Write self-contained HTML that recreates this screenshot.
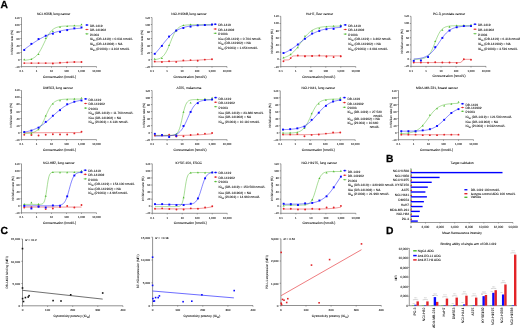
<!DOCTYPE html>
<html><head><meta charset="utf-8"><style>
html,body{margin:0;padding:0;background:#fff;}
svg{display:block;will-change:transform;}
text{font-family:"Liberation Sans",sans-serif;fill:#000;text-rendering:geometricPrecision;stroke:#000;stroke-width:0.05px;}
</style></head><body>
<svg width="520" height="328" viewBox="0 0 520 328">
<rect width="520" height="328" fill="#fff"/>
<text x="36.9" y="15.25" font-size="3.3" text-anchor="start">NCI-H358, lung cancer</text>
<path d="M21.5 17.5V66.6H96.5" fill="none" stroke="#444" stroke-width="0.55"/>
<path d="M20.3 66.6H21.5M20.3 59.59H21.5M20.3 52.57H21.5M20.3 45.56H21.5M20.3 38.54H21.5M20.3 31.53H21.5M20.3 24.51H21.5M20.3 17.5H21.5M21.5 66.6v1.1M36.5 66.6v1.1M51.5 66.6v1.1M66.5 66.6v1.1M81.5 66.6v1.1M96.5 66.6v1.1" stroke="#444" stroke-width="0.5"/>
<text x="19.5" y="67.6" font-size="2.8" text-anchor="end">&#8722;20</text>
<text x="19.5" y="60.59" font-size="2.8" text-anchor="end">0</text>
<text x="19.5" y="53.57" font-size="2.8" text-anchor="end">20</text>
<text x="19.5" y="46.56" font-size="2.8" text-anchor="end">40</text>
<text x="19.5" y="39.54" font-size="2.8" text-anchor="end">60</text>
<text x="19.5" y="32.53" font-size="2.8" text-anchor="end">80</text>
<text x="19.5" y="25.51" font-size="2.8" text-anchor="end">100</text>
<text x="19.5" y="18.5" font-size="2.8" text-anchor="end">120</text>
<text x="21.5" y="72.2" font-size="2.8" text-anchor="middle">0.1</text>
<text x="36.5" y="72.2" font-size="2.8" text-anchor="middle">1</text>
<text x="51.5" y="72.2" font-size="2.8" text-anchor="middle">10</text>
<text x="66.5" y="72.2" font-size="2.8" text-anchor="middle">100</text>
<text x="81.5" y="72.2" font-size="2.8" text-anchor="middle">1,000</text>
<text x="96.5" y="72.2" font-size="2.8" text-anchor="middle">10,000</text>
<text x="43" y="77.5" font-size="3.25" text-anchor="start">Concentration (nmol/L)</text>
<text transform="translate(12.7 42.35) rotate(-90)" font-size="3.2" text-anchor="middle">Inhibition rate (%)</text>
<polyline points="24.25,63.15 24.97,63.15 25.69,63.15 26.42,63.15 27.14,63.15 27.87,63.15 28.59,63.15 29.32,63.15 30.04,63.15 30.77,63.15 31.49,63.15 32.22,63.15 32.94,63.15 33.67,63.15 34.39,63.15 35.12,63.15 35.84,63.15 36.57,63.15 37.29,63.15 38.02,63.15 38.74,63.15 39.47,63.15 40.19,63.15 40.91,63.15 41.64,63.15 42.36,63.15 43.09,63.15 43.81,63.15 44.54,63.15 45.26,63.15 45.99,63.15 46.71,63.15 47.44,63.15 48.16,63.14 48.89,63.14 49.61,63.14 50.34,63.13 51.06,63.13 51.79,63.12 52.51,63.12 53.24,63.11 53.96,63.1 54.68,63.08 55.41,63.07 56.13,63.05 56.86,63.03 57.58,63 58.31,62.97 59.03,62.93 59.76,62.89 60.48,62.84 61.21,62.79 61.93,62.73 62.66,62.67 63.38,62.61 64.11,62.55 64.83,62.49 65.56,62.43 66.28,62.38 67.01,62.33 67.73,62.28 68.45,62.24 69.18,62.21 69.9,62.18 70.63,62.15 71.35,62.13 72.08,62.12 72.8,62.1 73.53,62.09 74.25,62.08 74.98,62.07 75.7,62.06 76.43,62.06 77.15,62.05 77.88,62.05 78.6,62.05 79.33,62.05 80.05,62.04 80.78,62.04 81.5,62.04" fill="none" stroke="#e32428" stroke-width="0.5"/>
<circle cx="24.25" cy="63.09" r="0.95" fill="#e32428"/>
<circle cx="31.4" cy="63.09" r="0.95" fill="#e32428"/>
<circle cx="38.56" cy="63.09" r="0.95" fill="#e32428"/>
<circle cx="45.72" cy="63.09" r="0.95" fill="#e32428"/>
<circle cx="52.87" cy="63.44" r="0.95" fill="#e32428"/>
<circle cx="60.03" cy="62.74" r="0.95" fill="#e32428"/>
<circle cx="67.19" cy="62.39" r="0.95" fill="#e32428"/>
<circle cx="74.34" cy="62.04" r="0.95" fill="#e32428"/>
<circle cx="81.5" cy="62.04" r="0.95" fill="#e32428"/>
<polyline points="24.25,60.27 24.97,60.21 25.69,60.15 26.42,60.07 27.14,59.98 27.87,59.87 28.59,59.75 29.32,59.6 30.04,59.42 30.77,59.21 31.49,58.96 32.22,58.68 32.94,58.34 33.67,57.95 34.39,57.49 35.12,56.96 35.84,56.35 36.57,55.66 37.29,54.87 38.02,53.99 38.74,53 39.47,51.91 40.19,50.72 40.91,49.43 41.64,48.06 42.36,46.62 43.09,45.14 43.81,43.62 44.54,42.09 45.26,40.59 45.99,39.12 46.71,37.71 47.44,36.38 48.16,35.14 48.89,33.99 49.61,32.95 50.34,32.01 51.06,31.17 51.79,30.42 52.51,29.77 53.24,29.2 53.96,28.71 54.68,28.28 55.41,27.92 56.13,27.6 56.86,27.33 57.58,27.11 58.31,26.91 59.03,26.75 59.76,26.61 60.48,26.49 61.21,26.39 61.93,26.31 62.66,26.24 63.38,26.18 64.11,26.13 64.83,26.09 65.56,26.05 66.28,26.02 67.01,26 67.73,25.98 68.45,25.96 69.18,25.94 69.9,25.93 70.63,25.92 71.35,25.91 72.08,25.91 72.8,25.9 73.53,25.89 74.25,25.89 74.98,25.89 75.7,25.88 76.43,25.88 77.15,25.88 77.88,25.88 78.6,25.88 79.33,25.87 80.05,25.87 80.78,25.87 81.5,25.87" fill="none" stroke="#52bb32" stroke-width="0.5"/>
<path d="M24.25 58.54L25.29 60.35L23.2 60.35Z" fill="#52bb32"/>
<path d="M31.4 58.19L32.45 59.99L30.36 59.99Z" fill="#52bb32"/>
<path d="M38.56 53.28L39.6 55.08L37.51 55.08Z" fill="#52bb32"/>
<path d="M45.72 37.15L46.76 38.95L44.67 38.95Z" fill="#52bb32"/>
<path d="M52.87 30.13L53.92 31.94L51.83 31.94Z" fill="#52bb32"/>
<path d="M60.03 26.06L61.07 27.87L58.98 27.87Z" fill="#52bb32"/>
<path d="M67.19 25.22L68.23 27.03L66.14 27.03Z" fill="#52bb32"/>
<path d="M74.34 24.52L75.39 26.33L73.3 26.33Z" fill="#52bb32"/>
<path d="M81.5 23.47L82.55 25.27L80.45 25.27Z" fill="#52bb32"/>
<polyline points="24.25,49.45 24.97,48.93 25.69,48.41 26.42,47.89 27.14,47.37 27.87,46.85 28.59,46.33 29.32,45.81 30.04,45.3 30.77,44.8 31.49,44.29 32.22,43.79 32.94,43.3 33.67,42.81 34.39,42.33 35.12,41.86 35.84,41.39 36.57,40.94 37.29,40.49 38.02,40.04 38.74,39.61 39.47,39.18 40.19,38.77 40.91,38.36 41.64,37.97 42.36,37.58 43.09,37.2 43.81,36.83 44.54,36.47 45.26,36.12 45.99,35.79 46.71,35.46 47.44,35.14 48.16,34.83 48.89,34.53 49.61,34.24 50.34,33.96 51.06,33.68 51.79,33.42 52.51,33.17 53.24,32.92 53.96,32.69 54.68,32.46 55.41,32.24 56.13,32.03 56.86,31.82 57.58,31.63 58.31,31.44 59.03,31.26 59.76,31.08 60.48,30.91 61.21,30.75 61.93,30.6 62.66,30.45 63.38,30.31 64.11,30.17 64.83,30.04 65.56,29.91 66.28,29.79 67.01,29.68 67.73,29.57 68.45,29.46 69.18,29.36 69.9,29.26 70.63,29.17 71.35,29.08 72.08,29 72.8,28.92 73.53,28.84 74.25,28.77 74.98,28.7 75.7,28.63 76.43,28.56 77.15,28.5 77.88,28.44 78.6,28.39 79.33,28.33 80.05,28.28 80.78,28.23 81.5,28.18" fill="none" stroke="#0a0aff" stroke-width="0.5"/>
<path d="M24.25 49.38V50.57" stroke="#0a0aff" stroke-width="0.6"/>
<rect x="23.3" y="49.03" width="1.9" height="1.9" fill="#0a0aff"/>
<path d="M31.4 43.45V44.26" stroke="#0a0aff" stroke-width="0.6"/>
<rect x="30.45" y="42.91" width="1.9" height="1.9" fill="#0a0aff"/>
<rect x="37.61" y="38.08" width="1.9" height="1.9" fill="#0a0aff"/>
<rect x="44.77" y="34.79" width="1.9" height="1.9" fill="#0a0aff"/>
<rect x="51.92" y="32.79" width="1.9" height="1.9" fill="#0a0aff"/>
<rect x="59.08" y="30.96" width="1.9" height="1.9" fill="#0a0aff"/>
<rect x="66.24" y="29.18" width="1.9" height="1.9" fill="#0a0aff"/>
<rect x="73.39" y="27.39" width="1.9" height="1.9" fill="#0a0aff"/>
<rect x="80.55" y="26.48" width="1.9" height="1.9" fill="#0a0aff"/>
<path d="M85.3 25h3.2" stroke="#0a0aff" stroke-width="0.6"/>
<rect x="86.1" y="24.2" width="1.6" height="1.6" fill="#0a0aff"/>
<text x="89.9" y="26.95" font-size="3.2" text-anchor="start">DB-1419</text>
<path d="M85.3 29.5h3.2" stroke="#e32428" stroke-width="0.6"/>
<circle cx="86.9" cy="29.5" r="0.8" fill="#e32428"/>
<text x="89.9" y="31.45" font-size="3.2" text-anchor="start">DB-141902</text>
<path d="M85.3 33.75h3.2" stroke="#52bb32" stroke-width="0.6"/>
<path d="M86.9 32.87L87.78 34.39L86.02 34.39Z" fill="#52bb32"/>
<text x="89.9" y="35.7" font-size="3.2" text-anchor="start">P1003</text>
<text x="89.9" y="39.85" font-size="3.2">IC<tspan font-size="1.984" dy="0.8">50</tspan><tspan dy="-0.8"> (DB-1419) = 0.031 nmol/L</tspan></text>
<text x="89.9" y="45.25" font-size="3.2">IC<tspan font-size="1.984" dy="0.8">50</tspan><tspan dy="-0.8"> (DB-141902) = NA</tspan></text>
<text x="89.9" y="49.85" font-size="3.2">IC<tspan font-size="1.984" dy="0.8">50</tspan><tspan dy="-0.8"> (P1003) = 3.102 nmol/L</tspan></text>
<text x="171.25" y="15.25" font-size="3.3" text-anchor="start">NCI-H1568, lung cancer</text>
<path d="M152 17.5V66.6H227" fill="none" stroke="#444" stroke-width="0.55"/>
<path d="M150.8 66.6H152M150.8 59.59H152M150.8 52.57H152M150.8 45.56H152M150.8 38.54H152M150.8 31.53H152M150.8 24.51H152M150.8 17.5H152M152 66.6v1.1M167 66.6v1.1M182 66.6v1.1M197 66.6v1.1M212 66.6v1.1M227 66.6v1.1" stroke="#444" stroke-width="0.5"/>
<text x="150" y="67.6" font-size="2.8" text-anchor="end">&#8722;20</text>
<text x="150" y="60.59" font-size="2.8" text-anchor="end">0</text>
<text x="150" y="53.57" font-size="2.8" text-anchor="end">20</text>
<text x="150" y="46.56" font-size="2.8" text-anchor="end">40</text>
<text x="150" y="39.54" font-size="2.8" text-anchor="end">60</text>
<text x="150" y="32.53" font-size="2.8" text-anchor="end">80</text>
<text x="150" y="25.51" font-size="2.8" text-anchor="end">100</text>
<text x="150" y="18.5" font-size="2.8" text-anchor="end">120</text>
<text x="152" y="72.2" font-size="2.8" text-anchor="middle">0.1</text>
<text x="167" y="72.2" font-size="2.8" text-anchor="middle">1</text>
<text x="182" y="72.2" font-size="2.8" text-anchor="middle">10</text>
<text x="197" y="72.2" font-size="2.8" text-anchor="middle">100</text>
<text x="212" y="72.2" font-size="2.8" text-anchor="middle">1,000</text>
<text x="227" y="72.2" font-size="2.8" text-anchor="middle">10,000</text>
<text x="173.5" y="77.5" font-size="3.25" text-anchor="start">Concentration (nmol/L)</text>
<text transform="translate(143.2 42.35) rotate(-90)" font-size="3.2" text-anchor="middle">Inhibition rate (%)</text>
<polyline points="154.75,61.82 155.47,61.81 156.19,61.79 156.92,61.78 157.64,61.77 158.37,61.75 159.09,61.74 159.82,61.72 160.54,61.71 161.27,61.69 161.99,61.68 162.72,61.66 163.44,61.64 164.17,61.62 164.89,61.6 165.62,61.59 166.34,61.57 167.07,61.55 167.79,61.52 168.52,61.5 169.24,61.48 169.97,61.46 170.69,61.43 171.41,61.41 172.14,61.38 172.86,61.36 173.59,61.33 174.31,61.31 175.04,61.28 175.76,61.25 176.49,61.22 177.21,61.19 177.94,61.16 178.66,61.13 179.39,61.1 180.11,61.07 180.84,61.03 181.56,61 182.29,60.96 183.01,60.93 183.74,60.89 184.46,60.86 185.18,60.82 185.91,60.78 186.63,60.75 187.36,60.71 188.08,60.67 188.81,60.63 189.53,60.59 190.26,60.55 190.98,60.51 191.71,60.47 192.43,60.42 193.16,60.38 193.88,60.34 194.61,60.3 195.33,60.26 196.06,60.21 196.78,60.17 197.51,60.13 198.23,60.08 198.95,60.04 199.68,60 200.4,59.95 201.13,59.91 201.85,59.87 202.58,59.82 203.3,59.78 204.03,59.74 204.75,59.7 205.48,59.65 206.2,59.61 206.93,59.57 207.65,59.53 208.38,59.49 209.1,59.45 209.83,59.41 210.55,59.37 211.28,59.33 212,59.29" fill="none" stroke="#e32428" stroke-width="0.5"/>
<circle cx="154.75" cy="61.55" r="0.95" fill="#e32428"/>
<circle cx="161.9" cy="62.04" r="0.95" fill="#e32428"/>
<circle cx="169.06" cy="61.23" r="0.95" fill="#e32428"/>
<circle cx="176.22" cy="61.9" r="0.95" fill="#e32428"/>
<circle cx="183.37" cy="60.39" r="0.95" fill="#e32428"/>
<circle cx="190.53" cy="60.08" r="0.95" fill="#e32428"/>
<circle cx="197.69" cy="60.74" r="0.95" fill="#e32428"/>
<circle cx="204.84" cy="59.59" r="0.95" fill="#e32428"/>
<circle cx="212" cy="59.23" r="0.95" fill="#e32428"/>
<polyline points="154.75,59.58 155.47,59.49 156.19,59.39 156.92,59.25 157.64,59.09 158.37,58.9 159.09,58.66 159.82,58.37 160.54,58.02 161.27,57.6 161.99,57.09 162.72,56.5 163.44,55.79 164.17,54.96 164.89,53.99 165.62,52.89 166.34,51.64 167.07,50.24 167.79,48.71 168.52,47.06 169.24,45.31 169.97,43.5 170.69,41.67 171.41,39.85 172.14,38.08 172.86,36.4 173.59,34.83 174.31,33.39 175.04,32.1 175.76,30.95 176.49,29.95 177.21,29.08 177.94,28.34 178.66,27.71 179.39,27.18 180.11,26.74 180.84,26.37 181.56,26.07 182.29,25.82 183.01,25.61 183.74,25.44 184.46,25.3 185.18,25.18 185.91,25.09 186.63,25.01 187.36,24.95 188.08,24.9 188.81,24.86 189.53,24.83 190.26,24.8 190.98,24.78 191.71,24.76 192.43,24.75 193.16,24.73 193.88,24.72 194.61,24.72 195.33,24.71 196.06,24.7 196.78,24.7 197.51,24.7 198.23,24.69 198.95,24.69 199.68,24.69 200.4,24.69 201.13,24.69 201.85,24.69 202.58,24.69 203.3,24.68 204.03,24.68 204.75,24.68 205.48,24.68 206.2,24.68 206.93,24.68 207.65,24.68 208.38,24.68 209.1,24.68 209.83,24.68 210.55,24.68 211.28,24.68 212,24.68" fill="none" stroke="#52bb32" stroke-width="0.5"/>
<path d="M154.75 57.84L155.79 59.64L153.7 59.64Z" fill="#52bb32"/>
<path d="M161.9 57.14L162.95 58.94L160.86 58.94Z" fill="#52bb32"/>
<path d="M169.06 44.16L170.1 45.97L168.01 45.97Z" fill="#52bb32"/>
<path d="M176.22 29.78L177.26 31.59L175.17 31.59Z" fill="#52bb32"/>
<path d="M183.37 24.31L184.42 26.12L182.33 26.12Z" fill="#52bb32"/>
<path d="M190.53 23.47L191.57 25.27L189.48 25.27Z" fill="#52bb32"/>
<path d="M197.69 23.96L198.73 25.77L196.64 25.77Z" fill="#52bb32"/>
<path d="M204.84 23.64L205.89 25.45L203.8 25.45Z" fill="#52bb32"/>
<path d="M212 23.47L213.04 25.27L210.96 25.27Z" fill="#52bb32"/>
<polyline points="154.75,53.89 155.47,53.13 156.19,52.35 156.92,51.54 157.64,50.71 158.37,49.85 159.09,48.98 159.82,48.09 160.54,47.19 161.27,46.28 161.99,45.36 162.72,44.44 163.44,43.53 164.17,42.62 164.89,41.72 165.62,40.84 166.34,39.97 167.07,39.12 167.79,38.29 168.52,37.49 169.24,36.72 169.97,35.97 170.69,35.26 171.41,34.57 172.14,33.92 172.86,33.3 173.59,32.71 174.31,32.15 175.04,31.63 175.76,31.13 176.49,30.67 177.21,30.23 177.94,29.83 178.66,29.45 179.39,29.09 180.11,28.77 180.84,28.46 181.56,28.18 182.29,27.91 183.01,27.67 183.74,27.45 184.46,27.24 185.18,27.05 185.91,26.87 186.63,26.71 187.36,26.56 188.08,26.42 188.81,26.3 189.53,26.18 190.26,26.07 190.98,25.97 191.71,25.89 192.43,25.8 193.16,25.73 193.88,25.66 194.61,25.6 195.33,25.54 196.06,25.48 196.78,25.44 197.51,25.39 198.23,25.35 198.95,25.31 199.68,25.28 200.4,25.25 201.13,25.22 201.85,25.19 202.58,25.17 203.3,25.15 204.03,25.13 204.75,25.11 205.48,25.09 206.2,25.08 206.93,25.07 207.65,25.05 208.38,25.04 209.1,25.03 209.83,25.02 210.55,25.01 211.28,25 212,25" fill="none" stroke="#0a0aff" stroke-width="0.5"/>
<path d="M154.75 53.48V54.15" stroke="#0a0aff" stroke-width="0.6"/>
<rect x="153.8" y="52.87" width="1.9" height="1.9" fill="#0a0aff"/>
<rect x="160.95" y="44.96" width="1.9" height="1.9" fill="#0a0aff"/>
<rect x="168.11" y="35.59" width="1.9" height="1.9" fill="#0a0aff"/>
<rect x="175.27" y="29.53" width="1.9" height="1.9" fill="#0a0aff"/>
<rect x="182.42" y="27.07" width="1.9" height="1.9" fill="#0a0aff"/>
<rect x="189.58" y="25.67" width="1.9" height="1.9" fill="#0a0aff"/>
<rect x="196.74" y="24.41" width="1.9" height="1.9" fill="#0a0aff"/>
<rect x="203.89" y="24.06" width="1.9" height="1.9" fill="#0a0aff"/>
<rect x="211.05" y="23.56" width="1.9" height="1.9" fill="#0a0aff"/>
<path d="M213.65 24.25h3.2" stroke="#0a0aff" stroke-width="0.6"/>
<rect x="214.45" y="23.45" width="1.6" height="1.6" fill="#0a0aff"/>
<text x="218.25" y="26.2" font-size="3.2" text-anchor="start">DB-1419</text>
<path d="M213.65 29h3.2" stroke="#e32428" stroke-width="0.6"/>
<circle cx="215.25" cy="29" r="0.8" fill="#e32428"/>
<text x="218.25" y="30.95" font-size="3.2" text-anchor="start">DB-141902</text>
<path d="M213.65 33.25h3.2" stroke="#52bb32" stroke-width="0.6"/>
<path d="M215.25 32.37L216.13 33.89L214.37 33.89Z" fill="#52bb32"/>
<text x="218.25" y="35.2" font-size="3.2" text-anchor="start">P1003</text>
<text x="218.25" y="39.5" font-size="3.2">IC<tspan font-size="1.984" dy="0.8">50</tspan><tspan dy="-0.8"> (DB-1419) = 0.704 nmol/L</tspan></text>
<text x="218.25" y="43.95" font-size="3.2">IC<tspan font-size="1.984" dy="0.8">50</tspan><tspan dy="-0.8"> (DB-141902) = NA</tspan></text>
<text x="218.25" y="49.05" font-size="3.2">IC<tspan font-size="1.984" dy="0.8">50</tspan><tspan dy="-0.8"> (P1003) = 1.654 nmol/L</tspan></text>
<text x="306" y="15.25" font-size="3.3" text-anchor="start">HuH7, liver cancer</text>
<path d="M280.75 16.3V66.6H355.75" fill="none" stroke="#444" stroke-width="0.55"/>
<path d="M279.55 66.6H280.75M279.55 59.41H280.75M279.55 52.23H280.75M279.55 45.04H280.75M279.55 37.86H280.75M279.55 30.67H280.75M279.55 23.49H280.75M279.55 16.3H280.75M280.75 66.6v1.1M295.75 66.6v1.1M310.75 66.6v1.1M325.75 66.6v1.1M340.75 66.6v1.1M355.75 66.6v1.1" stroke="#444" stroke-width="0.5"/>
<text x="278.75" y="67.6" font-size="2.8" text-anchor="end">&#8722;20</text>
<text x="278.75" y="60.41" font-size="2.8" text-anchor="end">0</text>
<text x="278.75" y="53.23" font-size="2.8" text-anchor="end">20</text>
<text x="278.75" y="46.04" font-size="2.8" text-anchor="end">40</text>
<text x="278.75" y="38.86" font-size="2.8" text-anchor="end">60</text>
<text x="278.75" y="31.67" font-size="2.8" text-anchor="end">80</text>
<text x="278.75" y="24.49" font-size="2.8" text-anchor="end">100</text>
<text x="278.75" y="17.3" font-size="2.8" text-anchor="end">120</text>
<text x="280.75" y="72.2" font-size="2.8" text-anchor="middle">0.1</text>
<text x="295.75" y="72.2" font-size="2.8" text-anchor="middle">1</text>
<text x="310.75" y="72.2" font-size="2.8" text-anchor="middle">10</text>
<text x="325.75" y="72.2" font-size="2.8" text-anchor="middle">100</text>
<text x="340.75" y="72.2" font-size="2.8" text-anchor="middle">1,000</text>
<text x="355.75" y="72.2" font-size="2.8" text-anchor="middle">10,000</text>
<text x="302.25" y="77.5" font-size="3.25" text-anchor="start">Concentration (nmol/L)</text>
<text transform="translate(272.55 41.75) rotate(-90)" font-size="3.2" text-anchor="middle">Inhibition rate (%)</text>
<polyline points="283.5,59.95 284.22,59.95 284.94,59.95 285.67,59.95 286.39,59.95 287.12,59.94 287.84,59.92 288.57,59.85 289.29,59.66 290.02,59.17 290.74,58.24 291.47,57.16 292.19,56.42 292.92,56.08 293.64,55.96 294.37,55.91 295.09,55.9 295.82,55.9 296.54,55.89 297.27,55.89 297.99,55.89 298.72,55.89 299.44,55.89 300.16,55.89 300.89,55.89 301.61,55.89 302.34,55.89 303.06,55.89 303.79,55.89 304.51,55.89 305.24,55.89 305.96,55.89 306.69,55.89 307.41,55.89 308.14,55.89 308.86,55.89 309.59,55.89 310.31,55.89 311.04,55.89 311.76,55.89 312.49,55.89 313.21,55.89 313.93,55.89 314.66,55.89 315.38,55.89 316.11,55.89 316.83,55.89 317.56,55.89 318.28,55.89 319.01,55.89 319.73,55.89 320.46,55.89 321.18,55.89 321.91,55.89 322.63,55.89 323.36,55.89 324.08,55.89 324.81,55.89 325.53,55.89 326.26,55.89 326.98,55.89 327.7,55.89 328.43,55.89 329.15,55.89 329.88,55.89 330.6,55.89 331.33,55.89 332.05,55.89 332.78,55.89 333.5,55.89 334.23,55.89 334.95,55.89 335.68,55.89 336.4,55.89 337.13,55.89 337.85,55.89 338.58,55.89 339.3,55.89 340.03,55.89 340.75,55.89" fill="none" stroke="#e32428" stroke-width="0.5"/>
<circle cx="283.5" cy="61.21" r="0.95" fill="#e32428"/>
<circle cx="290.65" cy="58.08" r="0.95" fill="#e32428"/>
<circle cx="297.81" cy="55.46" r="0.95" fill="#e32428"/>
<path d="M304.97 55.28V57.26" stroke="#e32428" stroke-width="0.6"/>
<circle cx="304.97" cy="56.27" r="0.95" fill="#e32428"/>
<path d="M312.12 55.03V56.9" stroke="#e32428" stroke-width="0.6"/>
<circle cx="312.12" cy="55.97" r="0.95" fill="#e32428"/>
<circle cx="319.28" cy="55.46" r="0.95" fill="#e32428"/>
<path d="M326.44 55.46V57.44" stroke="#e32428" stroke-width="0.6"/>
<circle cx="326.44" cy="56.45" r="0.95" fill="#e32428"/>
<path d="M333.59 56.18V57.98" stroke="#e32428" stroke-width="0.6"/>
<circle cx="333.59" cy="57.08" r="0.95" fill="#e32428"/>
<path d="M340.75 55.28V57.26" stroke="#e32428" stroke-width="0.6"/>
<circle cx="340.75" cy="56.27" r="0.95" fill="#e32428"/>
<polyline points="283.5,57.79 284.22,57.58 284.94,57.34 285.67,57.08 286.39,56.79 287.12,56.47 287.84,56.11 288.57,55.72 289.29,55.29 290.02,54.82 290.74,54.3 291.47,53.74 292.19,53.14 292.92,52.48 293.64,51.78 294.37,51.04 295.09,50.24 295.82,49.4 296.54,48.52 297.27,47.6 297.99,46.65 298.72,45.68 299.44,44.68 300.16,43.67 300.89,42.65 301.61,41.63 302.34,40.63 303.06,39.63 303.79,38.66 304.51,37.72 305.24,36.82 305.96,35.95 306.69,35.12 307.41,34.34 308.14,33.61 308.86,32.92 309.59,32.28 310.31,31.69 311.04,31.14 311.76,30.64 312.49,30.18 313.21,29.76 313.93,29.38 314.66,29.03 315.38,28.72 316.11,28.44 316.83,28.19 317.56,27.96 318.28,27.75 319.01,27.57 319.73,27.4 320.46,27.26 321.18,27.12 321.91,27.01 322.63,26.9 323.36,26.81 324.08,26.73 324.81,26.65 325.53,26.59 326.26,26.53 326.98,26.48 327.7,26.43 328.43,26.39 329.15,26.35 329.88,26.32 330.6,26.29 331.33,26.27 332.05,26.25 332.78,26.23 333.5,26.21 334.23,26.19 334.95,26.18 335.68,26.17 336.4,26.16 337.13,26.15 337.85,26.14 338.58,26.13 339.3,26.12 340.03,26.12 340.75,26.11" fill="none" stroke="#52bb32" stroke-width="0.5"/>
<path d="M283.5 56.57L284.54 58.38L282.45 58.38Z" fill="#52bb32"/>
<path d="M290.65 53.34L291.7 55.14L289.61 55.14Z" fill="#52bb32"/>
<path d="M297.81 46.51L298.85 48.32L296.76 48.32Z" fill="#52bb32"/>
<path d="M304.97 35.02L306.01 36.82L303.92 36.82Z" fill="#52bb32"/>
<path d="M312.12 29.81L313.17 31.61L311.08 31.61Z" fill="#52bb32"/>
<path d="M319.28 27.47L320.32 29.28L318.23 29.28Z" fill="#52bb32"/>
<path d="M326.44 25.67L327.48 27.48L325.39 27.48Z" fill="#52bb32"/>
<path d="M333.59 25.06L334.64 26.87L332.55 26.87Z" fill="#52bb32"/>
<path d="M340.75 24.09L341.8 25.9L339.7 25.9Z" fill="#52bb32"/>
<polyline points="283.5,53.23 284.22,52.93 284.94,52.62 285.67,52.29 286.39,51.95 287.12,51.58 287.84,51.2 288.57,50.81 289.29,50.4 290.02,49.97 290.74,49.52 291.47,49.06 292.19,48.58 292.92,48.09 293.64,47.59 294.37,47.07 295.09,46.54 295.82,46 296.54,45.45 297.27,44.89 297.99,44.32 298.72,43.75 299.44,43.17 300.16,42.59 300.89,42.01 301.61,41.44 302.34,40.86 303.06,40.29 303.79,39.72 304.51,39.17 305.24,38.62 305.96,38.08 306.69,37.55 307.41,37.03 308.14,36.53 308.86,36.04 309.59,35.57 310.31,35.11 311.04,34.67 311.76,34.24 312.49,33.83 313.21,33.44 313.93,33.06 314.66,32.7 315.38,32.36 316.11,32.04 316.83,31.73 317.56,31.43 318.28,31.15 319.01,30.89 319.73,30.64 320.46,30.4 321.18,30.18 321.91,29.97 322.63,29.77 323.36,29.59 324.08,29.41 324.81,29.25 325.53,29.1 326.26,28.95 326.98,28.82 327.7,28.69 328.43,28.58 329.15,28.47 329.88,28.36 330.6,28.27 331.33,28.18 332.05,28.09 332.78,28.02 333.5,27.94 334.23,27.88 334.95,27.81 335.68,27.75 336.4,27.7 337.13,27.65 337.85,27.6 338.58,27.56 339.3,27.52 340.03,27.48 340.75,27.44" fill="none" stroke="#0a0aff" stroke-width="0.5"/>
<rect x="282.55" y="52.07" width="1.9" height="1.9" fill="#0a0aff"/>
<rect x="289.7" y="48.94" width="1.9" height="1.9" fill="#0a0aff"/>
<rect x="296.86" y="43.55" width="1.9" height="1.9" fill="#0a0aff"/>
<rect x="304.02" y="37.81" width="1.9" height="1.9" fill="#0a0aff"/>
<rect x="311.17" y="32.6" width="1.9" height="1.9" fill="#0a0aff"/>
<rect x="318.33" y="30.08" width="1.9" height="1.9" fill="#0a0aff"/>
<rect x="325.49" y="28.28" width="1.9" height="1.9" fill="#0a0aff"/>
<rect x="332.64" y="27.93" width="1.9" height="1.9" fill="#0a0aff"/>
<rect x="339.8" y="25.41" width="1.9" height="1.9" fill="#0a0aff"/>
<path d="M343.65 24.9h3.2" stroke="#0a0aff" stroke-width="0.6"/>
<rect x="344.45" y="24.1" width="1.6" height="1.6" fill="#0a0aff"/>
<text x="348.25" y="26.85" font-size="3.2" text-anchor="start">DB-1419</text>
<path d="M343.65 29.5h3.2" stroke="#e32428" stroke-width="0.6"/>
<circle cx="345.25" cy="29.5" r="0.8" fill="#e32428"/>
<text x="348.25" y="31.45" font-size="3.2" text-anchor="start">DB-141902</text>
<path d="M343.65 34h3.2" stroke="#52bb32" stroke-width="0.6"/>
<path d="M345.25 33.12L346.13 34.64L344.37 34.64Z" fill="#52bb32"/>
<text x="348.25" y="35.95" font-size="3.2" text-anchor="start">P1003</text>
<text x="348.25" y="40.35" font-size="3.2">IC<tspan font-size="1.984" dy="0.8">50</tspan><tspan dy="-0.8"> (DB-1419) = 3.202 nmol/L</tspan></text>
<text x="348.25" y="45.15" font-size="3.2">IC<tspan font-size="1.984" dy="0.8">50</tspan><tspan dy="-0.8"> (DB-141902) = NA</tspan></text>
<text x="348.25" y="50.15" font-size="3.2">IC<tspan font-size="1.984" dy="0.8">50</tspan><tspan dy="-0.8"> (P1003) = 2.081 nmol/L</tspan></text>
<text x="433" y="15.25" font-size="3.3" text-anchor="start">PC-3, prostate cancer</text>
<path d="M411 16.3V66.4H486" fill="none" stroke="#444" stroke-width="0.55"/>
<path d="M409.8 66.4H411M409.8 59.24H411M409.8 52.09H411M409.8 44.93H411M409.8 37.77H411M409.8 30.61H411M409.8 23.46H411M409.8 16.3H411M411 66.4v1.1M426 66.4v1.1M441 66.4v1.1M456 66.4v1.1M471 66.4v1.1M486 66.4v1.1" stroke="#444" stroke-width="0.5"/>
<text x="409" y="67.4" font-size="2.8" text-anchor="end">&#8722;20</text>
<text x="409" y="60.24" font-size="2.8" text-anchor="end">0</text>
<text x="409" y="53.09" font-size="2.8" text-anchor="end">20</text>
<text x="409" y="45.93" font-size="2.8" text-anchor="end">40</text>
<text x="409" y="38.77" font-size="2.8" text-anchor="end">60</text>
<text x="409" y="31.61" font-size="2.8" text-anchor="end">80</text>
<text x="409" y="24.46" font-size="2.8" text-anchor="end">100</text>
<text x="409" y="17.3" font-size="2.8" text-anchor="end">120</text>
<text x="411" y="72" font-size="2.8" text-anchor="middle">0.1</text>
<text x="426" y="72" font-size="2.8" text-anchor="middle">1</text>
<text x="441" y="72" font-size="2.8" text-anchor="middle">10</text>
<text x="456" y="72" font-size="2.8" text-anchor="middle">100</text>
<text x="471" y="72" font-size="2.8" text-anchor="middle">1,000</text>
<text x="486" y="72" font-size="2.8" text-anchor="middle">10,000</text>
<text x="432.5" y="77.3" font-size="3.25" text-anchor="start">Concentration (nmol/L)</text>
<text transform="translate(402.8 41.65) rotate(-90)" font-size="3.2" text-anchor="middle">Inhibition rate (%)</text>
<polyline points="413.75,62.57 414.47,62.57 415.19,62.57 415.92,62.57 416.64,62.57 417.37,62.57 418.09,62.57 418.82,62.57 419.54,62.57 420.27,62.57 420.99,62.57 421.72,62.57 422.44,62.57 423.17,62.57 423.89,62.57 424.62,62.57 425.34,62.57 426.07,62.57 426.79,62.57 427.52,62.57 428.24,62.57 428.97,62.57 429.69,62.57 430.41,62.57 431.14,62.57 431.86,62.57 432.59,62.57 433.31,62.57 434.04,62.57 434.76,62.57 435.49,62.57 436.21,62.57 436.94,62.57 437.66,62.57 438.39,62.57 439.11,62.57 439.84,62.57 440.56,62.57 441.29,62.57 442.01,62.57 442.74,62.57 443.46,62.57 444.18,62.57 444.91,62.57 445.63,62.57 446.36,62.57 447.08,62.57 447.81,62.57 448.53,62.57 449.26,62.57 449.98,62.57 450.71,62.57 451.43,62.57 452.16,62.57 452.88,62.57 453.61,62.57 454.33,62.57 455.06,62.57 455.78,62.57 456.51,62.57 457.23,62.57 457.95,62.57 458.68,62.57 459.4,62.56 460.13,62.51 460.85,62.36 461.58,61.9 462.3,60.96 463.03,60.02 463.75,59.56 464.48,59.41 465.2,59.37 465.93,59.35 466.65,59.35 467.38,59.35 468.1,59.35 468.83,59.35 469.55,59.35 470.28,59.35 471,59.35" fill="none" stroke="#e32428" stroke-width="0.5"/>
<circle cx="413.75" cy="62.46" r="0.95" fill="#e32428"/>
<circle cx="420.9" cy="62.46" r="0.95" fill="#e32428"/>
<circle cx="428.06" cy="62.82" r="0.95" fill="#e32428"/>
<circle cx="435.22" cy="62.21" r="0.95" fill="#e32428"/>
<circle cx="442.37" cy="62.46" r="0.95" fill="#e32428"/>
<circle cx="449.53" cy="62.46" r="0.95" fill="#e32428"/>
<circle cx="456.69" cy="63" r="0.95" fill="#e32428"/>
<circle cx="463.84" cy="59.24" r="0.95" fill="#e32428"/>
<circle cx="471" cy="59.74" r="0.95" fill="#e32428"/>
<polyline points="413.75,59.33 414.47,59.32 415.19,59.31 415.92,59.29 416.64,59.26 417.37,59.23 418.09,59.19 418.82,59.15 419.54,59.09 420.27,59.01 420.99,58.92 421.72,58.81 422.44,58.67 423.17,58.5 423.89,58.29 424.62,58.03 425.34,57.71 426.07,57.32 426.79,56.85 427.52,56.29 428.24,55.61 428.97,54.8 429.69,53.85 430.41,52.75 431.14,51.5 431.86,50.09 432.59,48.53 433.31,46.85 434.04,45.06 434.76,43.22 435.49,41.36 436.21,39.53 436.94,37.77 437.66,36.12 438.39,34.6 439.11,33.23 439.84,32.01 440.56,30.95 441.29,30.04 442.01,29.27 442.74,28.62 443.46,28.08 444.18,27.63 444.91,27.26 445.63,26.96 446.36,26.71 447.08,26.51 447.81,26.35 448.53,26.22 449.26,26.11 449.98,26.03 450.71,25.96 451.43,25.9 452.16,25.86 452.88,25.82 453.61,25.79 454.33,25.77 455.06,25.75 455.78,25.74 456.51,25.73 457.23,25.72 457.95,25.71 458.68,25.7 459.4,25.7 460.13,25.69 460.85,25.69 461.58,25.69 462.3,25.69 463.03,25.68 463.75,25.68 464.48,25.68 465.2,25.68 465.93,25.68 466.65,25.68 467.38,25.68 468.1,25.68 468.83,25.68 469.55,25.68 470.28,25.68 471,25.68" fill="none" stroke="#52bb32" stroke-width="0.5"/>
<path d="M428.06 56.05L429.1 57.86L427.01 57.86Z" fill="#52bb32"/>
<path d="M435.22 40.13L436.26 41.93L434.17 41.93Z" fill="#52bb32"/>
<path d="M442.37 28.96L443.42 30.77L441.33 30.77Z" fill="#52bb32"/>
<path d="M449.53 25.85L450.57 27.65L448.48 27.65Z" fill="#52bb32"/>
<path d="M456.69 24.56L457.73 26.36L455.64 26.36Z" fill="#52bb32"/>
<path d="M463.84 24.2L464.89 26.01L462.8 26.01Z" fill="#52bb32"/>
<path d="M471 23.74L472.05 25.54L469.95 25.54Z" fill="#52bb32"/>
<polyline points="413.75,59.03 414.47,58.98 415.19,58.93 415.92,58.87 416.64,58.8 417.37,58.72 418.09,58.63 418.82,58.53 419.54,58.42 420.27,58.29 420.99,58.14 421.72,57.98 422.44,57.79 423.17,57.58 423.89,57.34 424.62,57.08 425.34,56.78 426.07,56.45 426.79,56.09 427.52,55.68 428.24,55.22 428.97,54.72 429.69,54.17 430.41,53.57 431.14,52.91 431.86,52.2 432.59,51.44 433.31,50.62 434.04,49.74 434.76,48.82 435.49,47.85 436.21,46.84 436.94,45.8 437.66,44.73 438.39,43.64 439.11,42.54 439.84,41.45 440.56,40.37 441.29,39.3 442.01,38.26 442.74,37.26 443.46,36.3 444.18,35.39 444.91,34.53 445.63,33.72 446.36,32.96 447.08,32.26 447.81,31.62 448.53,31.03 449.26,30.49 449.98,30 450.71,29.55 451.43,29.15 452.16,28.79 452.88,28.47 453.61,28.18 454.33,27.92 455.06,27.69 455.78,27.49 456.51,27.3 457.23,27.14 457.95,27 458.68,26.87 459.4,26.76 460.13,26.67 460.85,26.58 461.58,26.5 462.3,26.44 463.03,26.38 463.75,26.32 464.48,26.28 465.2,26.24 465.93,26.2 466.65,26.17 467.38,26.14 468.1,26.12 468.83,26.1 469.55,26.08 470.28,26.06 471,26.05" fill="none" stroke="#0a0aff" stroke-width="0.5"/>
<path d="M413.75 60.32V61.39" stroke="#0a0aff" stroke-width="0.6"/>
<rect x="412.8" y="59.9" width="1.9" height="1.9" fill="#0a0aff"/>
<path d="M420.9 60.07V60.89" stroke="#0a0aff" stroke-width="0.6"/>
<rect x="419.95" y="59.53" width="1.9" height="1.9" fill="#0a0aff"/>
<path d="M428.06 56.45V57.6" stroke="#0a0aff" stroke-width="0.6"/>
<rect x="427.11" y="56.07" width="1.9" height="1.9" fill="#0a0aff"/>
<path d="M435.22 46.11V48.26" stroke="#0a0aff" stroke-width="0.6"/>
<rect x="434.27" y="46.23" width="1.9" height="1.9" fill="#0a0aff"/>
<rect x="441.42" y="36.96" width="1.9" height="1.9" fill="#0a0aff"/>
<rect x="448.58" y="29.66" width="1.9" height="1.9" fill="#0a0aff"/>
<rect x="455.74" y="26.3" width="1.9" height="1.9" fill="#0a0aff"/>
<rect x="462.89" y="25.12" width="1.9" height="1.9" fill="#0a0aff"/>
<rect x="470.05" y="25.12" width="1.9" height="1.9" fill="#0a0aff"/>
<path d="M473.4 24.25h3.2" stroke="#0a0aff" stroke-width="0.6"/>
<rect x="474.2" y="23.45" width="1.6" height="1.6" fill="#0a0aff"/>
<text x="478" y="26.2" font-size="3.2" text-anchor="start">DB-1419</text>
<path d="M473.4 29.25h3.2" stroke="#e32428" stroke-width="0.6"/>
<circle cx="475" cy="29.25" r="0.8" fill="#e32428"/>
<text x="478" y="31.2" font-size="3.2" text-anchor="start">DB-141902</text>
<path d="M473.4 33.6h3.2" stroke="#52bb32" stroke-width="0.6"/>
<path d="M475 32.72L475.88 34.24L474.12 34.24Z" fill="#52bb32"/>
<text x="478" y="35.55" font-size="3.2" text-anchor="start">P1003</text>
<text x="478" y="40" font-size="3.2">IC<tspan font-size="1.984" dy="0.8">50</tspan><tspan dy="-0.8"> (DB-1419) = 6.318 nmol/L</tspan></text>
<text x="478" y="44.75" font-size="3.2">IC<tspan font-size="1.984" dy="0.8">50</tspan><tspan dy="-0.8"> (DB-141902) = NA</tspan></text>
<text x="478" y="49.75" font-size="3.2">IC<tspan font-size="1.984" dy="0.8">50</tspan><tspan dy="-0.8"> (P1003) = 3.591 nmol/L</tspan></text>
<text x="43" y="88.65" font-size="3.3" text-anchor="start">DMS53, lung cancer</text>
<path d="M21.5 90.45V139.6H96.5" fill="none" stroke="#444" stroke-width="0.55"/>
<path d="M20.3 139.6H21.5M20.3 132.58H21.5M20.3 125.56H21.5M20.3 118.54H21.5M20.3 111.51H21.5M20.3 104.49H21.5M20.3 97.47H21.5M20.3 90.45H21.5M21.5 139.6v1.1M36.5 139.6v1.1M51.5 139.6v1.1M66.5 139.6v1.1M81.5 139.6v1.1M96.5 139.6v1.1" stroke="#444" stroke-width="0.5"/>
<text x="19.5" y="140.6" font-size="2.8" text-anchor="end">&#8722;20</text>
<text x="19.5" y="133.58" font-size="2.8" text-anchor="end">0</text>
<text x="19.5" y="126.56" font-size="2.8" text-anchor="end">20</text>
<text x="19.5" y="119.54" font-size="2.8" text-anchor="end">40</text>
<text x="19.5" y="112.51" font-size="2.8" text-anchor="end">60</text>
<text x="19.5" y="105.49" font-size="2.8" text-anchor="end">80</text>
<text x="19.5" y="98.47" font-size="2.8" text-anchor="end">100</text>
<text x="19.5" y="91.45" font-size="2.8" text-anchor="end">120</text>
<text x="21.5" y="145.2" font-size="2.8" text-anchor="middle">0.1</text>
<text x="36.5" y="145.2" font-size="2.8" text-anchor="middle">1</text>
<text x="51.5" y="145.2" font-size="2.8" text-anchor="middle">10</text>
<text x="66.5" y="145.2" font-size="2.8" text-anchor="middle">100</text>
<text x="81.5" y="145.2" font-size="2.8" text-anchor="middle">1,000</text>
<text x="96.5" y="145.2" font-size="2.8" text-anchor="middle">10,000</text>
<text x="43" y="150.5" font-size="3.25" text-anchor="start">Concentration (nmol/L)</text>
<text transform="translate(11.9 115.33) rotate(-90)" font-size="3.2" text-anchor="middle">Inhibition rate (%)</text>
<polyline points="24.25,132.75 24.97,132.75 25.69,132.75 26.42,132.75 27.14,132.75 27.87,132.75 28.59,132.75 29.32,132.75 30.04,132.75 30.77,132.75 31.49,132.75 32.22,132.75 32.94,132.74 33.67,132.74 34.39,132.74 35.12,132.74 35.84,132.74 36.57,132.74 37.29,132.74 38.02,132.73 38.74,132.73 39.47,132.73 40.19,132.73 40.91,132.73 41.64,132.72 42.36,132.72 43.09,132.72 43.81,132.71 44.54,132.71 45.26,132.71 45.99,132.7 46.71,132.7 47.44,132.69 48.16,132.69 48.89,132.68 49.61,132.68 50.34,132.67 51.06,132.67 51.79,132.66 52.51,132.66 53.24,132.65 53.96,132.65 54.68,132.65 55.41,132.64 56.13,132.64 56.86,132.63 57.58,132.63 58.31,132.62 59.03,132.62 59.76,132.62 60.48,132.61 61.21,132.61 61.93,132.61 62.66,132.61 63.38,132.6 64.11,132.6 64.83,132.6 65.56,132.6 66.28,132.6 67.01,132.59 67.73,132.59 68.45,132.59 69.18,132.59 69.9,132.59 70.63,132.59 71.35,132.59 72.08,132.59 72.8,132.58 73.53,132.58 74.25,132.58 74.98,132.58 75.7,132.58 76.43,132.58 77.15,132.58 77.88,132.58 78.6,132.58 79.33,132.58 80.05,132.58 80.78,132.58 81.5,132.58" fill="none" stroke="#e32428" stroke-width="0.5"/>
<circle cx="24.25" cy="134.69" r="0.95" fill="#e32428"/>
<circle cx="31.4" cy="135.04" r="0.95" fill="#e32428"/>
<circle cx="38.56" cy="135.56" r="0.95" fill="#e32428"/>
<circle cx="45.72" cy="134.69" r="0.95" fill="#e32428"/>
<circle cx="52.87" cy="134.23" r="0.95" fill="#e32428"/>
<path d="M60.03 133.88V135.04" stroke="#e32428" stroke-width="0.6"/>
<circle cx="60.03" cy="134.46" r="0.95" fill="#e32428"/>
<circle cx="67.19" cy="134.54" r="0.95" fill="#e32428"/>
<circle cx="74.34" cy="133.39" r="0.95" fill="#e32428"/>
<circle cx="81.5" cy="131.77" r="0.95" fill="#e32428"/>
<polyline points="24.25,133.42 24.97,133.39 25.69,133.36 26.42,133.33 27.14,133.29 27.87,133.24 28.59,133.18 29.32,133.1 30.04,133.02 30.77,132.91 31.49,132.78 32.22,132.62 32.94,132.43 33.67,132.21 34.39,131.94 35.12,131.62 35.84,131.23 36.57,130.78 37.29,130.25 38.02,129.62 38.74,128.9 39.47,128.06 40.19,127.11 40.91,126.03 41.64,124.83 42.36,123.5 43.09,122.06 43.81,120.53 44.54,118.92 45.26,117.27 45.99,115.59 46.71,113.93 47.44,112.31 48.16,110.76 48.89,109.3 49.61,107.96 50.34,106.73 51.06,105.63 51.79,104.66 52.51,103.8 53.24,103.06 53.96,102.42 54.68,101.87 55.41,101.4 56.13,101.01 56.86,100.68 57.58,100.4 58.31,100.17 59.03,99.97 59.76,99.81 60.48,99.68 61.21,99.57 61.93,99.48 62.66,99.4 63.38,99.34 64.11,99.29 64.83,99.24 65.56,99.21 66.28,99.18 67.01,99.15 67.73,99.13 68.45,99.12 69.18,99.1 69.9,99.09 70.63,99.08 71.35,99.08 72.08,99.07 72.8,99.07 73.53,99.06 74.25,99.06 74.98,99.05 75.7,99.05 76.43,99.05 77.15,99.05 77.88,99.05 78.6,99.05 79.33,99.05 80.05,99.04 80.78,99.04 81.5,99.04" fill="none" stroke="#52bb32" stroke-width="0.5"/>
<path d="M24.25 131.53L25.29 133.34L23.2 133.34Z" fill="#52bb32"/>
<path d="M31.4 132.34L32.45 134.15L30.36 134.15Z" fill="#52bb32"/>
<path d="M38.56 128.55L39.6 130.35L37.51 130.35Z" fill="#52bb32"/>
<path d="M45.72 114.68L46.76 116.49L44.67 116.49Z" fill="#52bb32"/>
<path d="M52.87 102.75L53.92 104.55L51.83 104.55Z" fill="#52bb32"/>
<path d="M60.03 99.41L61.07 101.22L58.98 101.22Z" fill="#52bb32"/>
<path d="M67.19 98.53L68.23 100.34L66.14 100.34Z" fill="#52bb32"/>
<path d="M74.34 97.83L75.39 99.64L73.3 99.64Z" fill="#52bb32"/>
<path d="M81.5 96.92L82.55 98.72L80.45 98.72Z" fill="#52bb32"/>
<polyline points="24.25,132.11 24.97,131.99 25.69,131.85 26.42,131.71 27.14,131.55 27.87,131.39 28.59,131.21 29.32,131.02 30.04,130.82 30.77,130.6 31.49,130.37 32.22,130.13 32.94,129.87 33.67,129.6 34.39,129.31 35.12,129 35.84,128.67 36.57,128.33 37.29,127.97 38.02,127.59 38.74,127.19 39.47,126.77 40.19,126.33 40.91,125.87 41.64,125.39 42.36,124.89 43.09,124.38 43.81,123.84 44.54,123.29 45.26,122.72 45.99,122.13 46.71,121.53 47.44,120.91 48.16,120.28 48.89,119.64 49.61,118.99 50.34,118.33 51.06,117.67 51.79,117 52.51,116.33 53.24,115.66 53.96,114.99 54.68,114.32 55.41,113.66 56.13,113.01 56.86,112.36 57.58,111.73 58.31,111.11 59.03,110.5 59.76,109.91 60.48,109.33 61.21,108.77 61.93,108.23 62.66,107.71 63.38,107.2 64.11,106.72 64.83,106.25 65.56,105.8 66.28,105.38 67.01,104.97 67.73,104.58 68.45,104.22 69.18,103.87 69.9,103.54 70.63,103.22 71.35,102.93 72.08,102.65 72.8,102.38 73.53,102.13 74.25,101.9 74.98,101.68 75.7,101.47 76.43,101.28 77.15,101.1 77.88,100.93 78.6,100.77 79.33,100.62 80.05,100.48 80.78,100.35 81.5,100.23" fill="none" stroke="#0a0aff" stroke-width="0.5"/>
<path d="M24.25 131.77V132.23" stroke="#0a0aff" stroke-width="0.6"/>
<rect x="23.3" y="131.05" width="1.9" height="1.9" fill="#0a0aff"/>
<rect x="30.45" y="129.66" width="1.9" height="1.9" fill="#0a0aff"/>
<rect x="37.61" y="126.71" width="1.9" height="1.9" fill="#0a0aff"/>
<rect x="44.77" y="120.92" width="1.9" height="1.9" fill="#0a0aff"/>
<rect x="51.92" y="114.78" width="1.9" height="1.9" fill="#0a0aff"/>
<path d="M60.03 109.51V110.81" stroke="#0a0aff" stroke-width="0.6"/>
<rect x="59.08" y="109.21" width="1.9" height="1.9" fill="#0a0aff"/>
<rect x="66.24" y="103.26" width="1.9" height="1.9" fill="#0a0aff"/>
<rect x="73.39" y="100.8" width="1.9" height="1.9" fill="#0a0aff"/>
<rect x="80.55" y="99.51" width="1.9" height="1.9" fill="#0a0aff"/>
<path d="M84 98.9h3.2" stroke="#0a0aff" stroke-width="0.6"/>
<rect x="84.8" y="98.1" width="1.6" height="1.6" fill="#0a0aff"/>
<text x="88.6" y="100.85" font-size="3.2" text-anchor="start">DB-1419</text>
<path d="M84 103.5h3.2" stroke="#e32428" stroke-width="0.6"/>
<circle cx="85.6" cy="103.5" r="0.8" fill="#e32428"/>
<text x="88.6" y="105.45" font-size="3.2" text-anchor="start">DB-141902</text>
<path d="M84 108h3.2" stroke="#52bb32" stroke-width="0.6"/>
<path d="M85.6 107.12L86.48 108.64L84.72 108.64Z" fill="#52bb32"/>
<text x="88.6" y="109.95" font-size="3.2" text-anchor="start">P1003</text>
<text x="88.6" y="114" font-size="3.2">IC<tspan font-size="1.984" dy="0.8">50</tspan><tspan dy="-0.8"> (DB-1419) = 11.760 nmol/L</tspan></text>
<text x="88.6" y="118.5" font-size="3.2">IC<tspan font-size="1.984" dy="0.8">50</tspan><tspan dy="-0.8"> (DB-141902) = NA</tspan></text>
<text x="88.6" y="123.35" font-size="3.2">IC<tspan font-size="1.984" dy="0.8">50</tspan><tspan dy="-0.8"> (P1003) = 4.136 nmol/L</tspan></text>
<text x="176.5" y="88.65" font-size="3.3" text-anchor="start">A375, melanoma</text>
<path d="M152.1 90.5V139.7H227.1" fill="none" stroke="#444" stroke-width="0.55"/>
<path d="M150.9 139.7H152.1M150.9 132.67H152.1M150.9 125.64H152.1M150.9 118.61H152.1M150.9 111.59H152.1M150.9 104.56H152.1M150.9 97.53H152.1M150.9 90.5H152.1M152.1 139.7v1.1M167.1 139.7v1.1M182.1 139.7v1.1M197.1 139.7v1.1M212.1 139.7v1.1M227.1 139.7v1.1" stroke="#444" stroke-width="0.5"/>
<text x="150.1" y="140.7" font-size="2.8" text-anchor="end">&#8722;20</text>
<text x="150.1" y="133.67" font-size="2.8" text-anchor="end">0</text>
<text x="150.1" y="126.64" font-size="2.8" text-anchor="end">20</text>
<text x="150.1" y="119.61" font-size="2.8" text-anchor="end">40</text>
<text x="150.1" y="112.59" font-size="2.8" text-anchor="end">60</text>
<text x="150.1" y="105.56" font-size="2.8" text-anchor="end">80</text>
<text x="150.1" y="98.53" font-size="2.8" text-anchor="end">100</text>
<text x="150.1" y="91.5" font-size="2.8" text-anchor="end">120</text>
<text x="152.1" y="145.3" font-size="2.8" text-anchor="middle">0.1</text>
<text x="167.1" y="145.3" font-size="2.8" text-anchor="middle">1</text>
<text x="182.1" y="145.3" font-size="2.8" text-anchor="middle">10</text>
<text x="197.1" y="145.3" font-size="2.8" text-anchor="middle">100</text>
<text x="212.1" y="145.3" font-size="2.8" text-anchor="middle">1,000</text>
<text x="227.1" y="145.3" font-size="2.8" text-anchor="middle">10,000</text>
<text x="173.6" y="150.6" font-size="3.25" text-anchor="start">Concentration (nmol/L)</text>
<text transform="translate(144.9 115.4) rotate(-90)" font-size="3.2" text-anchor="middle">Inhibition rate (%)</text>
<polyline points="154.85,135.48 155.57,135.47 156.29,135.47 157.02,135.47 157.74,135.47 158.47,135.47 159.19,135.47 159.92,135.47 160.64,135.47 161.37,135.47 162.09,135.47 162.82,135.47 163.54,135.46 164.27,135.46 164.99,135.46 165.72,135.46 166.44,135.46 167.17,135.45 167.89,135.45 168.62,135.45 169.34,135.45 170.07,135.44 170.79,135.44 171.51,135.44 172.24,135.44 172.96,135.43 173.69,135.43 174.41,135.42 175.14,135.42 175.86,135.41 176.59,135.41 177.31,135.4 178.04,135.39 178.76,135.39 179.49,135.38 180.21,135.37 180.94,135.36 181.66,135.35 182.39,135.34 183.11,135.33 183.84,135.32 184.56,135.31 185.28,135.3 186.01,135.28 186.73,135.27 187.46,135.25 188.18,135.23 188.91,135.21 189.63,135.19 190.36,135.17 191.08,135.15 191.81,135.13 192.53,135.1 193.26,135.07 193.98,135.04 194.71,135.01 195.43,134.98 196.16,134.95 196.88,134.91 197.61,134.87 198.33,134.83 199.05,134.79 199.78,134.74 200.5,134.7 201.23,134.65 201.95,134.6 202.68,134.55 203.4,134.49 204.13,134.44 204.85,134.38 205.58,134.32 206.3,134.26 207.03,134.19 207.75,134.13 208.48,134.06 209.2,134 209.93,133.93 210.65,133.86 211.38,133.79 212.1,133.73" fill="none" stroke="#e32428" stroke-width="0.5"/>
<circle cx="154.85" cy="135.48" r="0.95" fill="#e32428"/>
<circle cx="162" cy="135.48" r="0.95" fill="#e32428"/>
<circle cx="169.16" cy="134.64" r="0.95" fill="#e32428"/>
<circle cx="176.32" cy="136.54" r="0.95" fill="#e32428"/>
<circle cx="183.47" cy="136.19" r="0.95" fill="#e32428"/>
<circle cx="190.63" cy="134.99" r="0.95" fill="#e32428"/>
<circle cx="197.79" cy="134.15" r="0.95" fill="#e32428"/>
<circle cx="204.94" cy="133.66" r="0.95" fill="#e32428"/>
<circle cx="212.1" cy="133.02" r="0.95" fill="#e32428"/>
<polyline points="154.85,135.41 155.57,135.41 156.29,135.41 157.02,135.41 157.74,135.41 158.47,135.41 159.19,135.41 159.92,135.41 160.64,135.41 161.37,135.41 162.09,135.41 162.82,135.41 163.54,135.41 164.27,135.4 164.99,135.4 165.72,135.4 166.44,135.4 167.17,135.39 167.89,135.39 168.62,135.38 169.34,135.36 170.07,135.35 170.79,135.32 171.51,135.28 172.24,135.22 172.96,135.13 173.69,135 174.41,134.82 175.14,134.56 175.86,134.19 176.59,133.66 177.31,132.91 178.04,131.89 178.76,130.5 179.49,128.69 180.21,126.39 180.94,123.63 181.66,120.49 182.39,117.15 183.11,113.84 183.84,110.76 184.56,108.08 185.28,105.88 186.01,104.15 186.73,102.84 187.46,101.88 188.18,101.18 188.91,100.68 189.63,100.33 190.36,100.09 191.08,99.92 191.81,99.8 192.53,99.72 193.26,99.67 193.98,99.63 194.71,99.6 195.43,99.58 196.16,99.57 196.88,99.56 197.61,99.56 198.33,99.55 199.05,99.55 199.78,99.55 200.5,99.55 201.23,99.55 201.95,99.54 202.68,99.54 203.4,99.54 204.13,99.54 204.85,99.54 205.58,99.54 206.3,99.54 207.03,99.54 207.75,99.54 208.48,99.54 209.2,99.54 209.93,99.54 210.65,99.54 211.38,99.54 212.1,99.54" fill="none" stroke="#52bb32" stroke-width="0.5"/>
<path d="M176.32 133.03L177.36 134.84L175.27 134.84Z" fill="#52bb32"/>
<path d="M183.47 110.89L184.52 112.7L182.43 112.7Z" fill="#52bb32"/>
<path d="M190.63 101.75L191.67 103.56L189.58 103.56Z" fill="#52bb32"/>
<path d="M197.79 98.45L198.83 100.26L196.74 100.26Z" fill="#52bb32"/>
<path d="M204.94 97.64L205.99 99.45L203.9 99.45Z" fill="#52bb32"/>
<path d="M212.1 96.83L213.14 98.64L211.06 98.64Z" fill="#52bb32"/>
<polyline points="154.85,136.1 155.57,136.1 156.29,136.1 157.02,136.1 157.74,136.09 158.47,136.09 159.19,136.08 159.92,136.08 160.64,136.07 161.37,136.06 162.09,136.05 162.82,136.04 163.54,136.03 164.27,136.01 164.99,135.99 165.72,135.97 166.44,135.94 167.17,135.91 167.89,135.87 168.62,135.82 169.34,135.76 170.07,135.7 170.79,135.61 171.51,135.52 172.24,135.4 172.96,135.26 173.69,135.1 174.41,134.9 175.14,134.67 175.86,134.39 176.59,134.07 177.31,133.69 178.04,133.24 178.76,132.72 179.49,132.12 180.21,131.42 180.94,130.63 181.66,129.73 182.39,128.71 183.11,127.58 183.84,126.33 184.56,124.98 185.28,123.52 186.01,121.98 186.73,120.38 187.46,118.74 188.18,117.09 188.91,115.45 189.63,113.85 190.36,112.31 191.08,110.86 191.81,109.51 192.53,108.26 193.26,107.13 193.98,106.12 194.71,105.22 195.43,104.43 196.16,103.73 196.88,103.13 197.61,102.61 198.33,102.17 199.05,101.79 199.78,101.47 200.5,101.19 201.23,100.96 201.95,100.77 202.68,100.6 203.4,100.46 204.13,100.35 204.85,100.25 205.58,100.17 206.3,100.1 207.03,100.04 207.75,100 208.48,99.96 209.2,99.92 209.93,99.9 210.65,99.87 211.38,99.85 212.1,99.84" fill="none" stroke="#0a0aff" stroke-width="0.5"/>
<rect x="153.9" y="132.88" width="1.9" height="1.9" fill="#0a0aff"/>
<rect x="161.05" y="134.04" width="1.9" height="1.9" fill="#0a0aff"/>
<path d="M169.16 136.54V137.45" stroke="#0a0aff" stroke-width="0.6"/>
<rect x="168.21" y="136.04" width="1.9" height="1.9" fill="#0a0aff"/>
<rect x="175.37" y="134.88" width="1.9" height="1.9" fill="#0a0aff"/>
<rect x="182.52" y="125.04" width="1.9" height="1.9" fill="#0a0aff"/>
<rect x="189.68" y="110.99" width="1.9" height="1.9" fill="#0a0aff"/>
<rect x="196.84" y="102.2" width="1.9" height="1.9" fill="#0a0aff"/>
<rect x="203.99" y="99.04" width="1.9" height="1.9" fill="#0a0aff"/>
<rect x="211.15" y="98.55" width="1.9" height="1.9" fill="#0a0aff"/>
<path d="M214 97.6h3.2" stroke="#0a0aff" stroke-width="0.6"/>
<rect x="214.8" y="96.8" width="1.6" height="1.6" fill="#0a0aff"/>
<text x="218.6" y="99.55" font-size="3.2" text-anchor="start">DB-1419</text>
<path d="M214 102.25h3.2" stroke="#e32428" stroke-width="0.6"/>
<circle cx="215.6" cy="102.25" r="0.8" fill="#e32428"/>
<text x="218.6" y="104.2" font-size="3.2" text-anchor="start">DB-141902</text>
<path d="M214 106.6h3.2" stroke="#52bb32" stroke-width="0.6"/>
<path d="M215.6 105.72L216.48 107.24L214.72 107.24Z" fill="#52bb32"/>
<text x="218.6" y="108.55" font-size="3.2" text-anchor="start">P1003</text>
<text x="218.6" y="113.5" font-size="3.2">IC<tspan font-size="1.984" dy="0.8">50</tspan><tspan dy="-0.8"> (DB-1419) = 23.880 nmol/L</tspan></text>
<text x="218.6" y="117.5" font-size="3.2">IC<tspan font-size="1.984" dy="0.8">50</tspan><tspan dy="-0.8"> (DB-141902) = NA</tspan></text>
<text x="218.6" y="123.15" font-size="3.2">IC<tspan font-size="1.984" dy="0.8">50</tspan><tspan dy="-0.8"> (P1003) = 10.110 nmol/L</tspan></text>
<text x="301.6" y="88.65" font-size="3.3" text-anchor="start">NCI-H441, lung cancer</text>
<path d="M280.25 90.8V139.8H355.25" fill="none" stroke="#444" stroke-width="0.55"/>
<path d="M279.05 139.8H280.25M279.05 132.8H280.25M279.05 125.8H280.25M279.05 118.8H280.25M279.05 111.8H280.25M279.05 104.8H280.25M279.05 97.8H280.25M279.05 90.8H280.25M280.25 139.8v1.1M295.25 139.8v1.1M310.25 139.8v1.1M325.25 139.8v1.1M340.25 139.8v1.1M355.25 139.8v1.1" stroke="#444" stroke-width="0.5"/>
<text x="278.25" y="140.8" font-size="2.8" text-anchor="end">&#8722;20</text>
<text x="278.25" y="133.8" font-size="2.8" text-anchor="end">0</text>
<text x="278.25" y="126.8" font-size="2.8" text-anchor="end">20</text>
<text x="278.25" y="119.8" font-size="2.8" text-anchor="end">40</text>
<text x="278.25" y="112.8" font-size="2.8" text-anchor="end">60</text>
<text x="278.25" y="105.8" font-size="2.8" text-anchor="end">80</text>
<text x="278.25" y="98.8" font-size="2.8" text-anchor="end">100</text>
<text x="278.25" y="91.8" font-size="2.8" text-anchor="end">120</text>
<text x="280.25" y="145.4" font-size="2.8" text-anchor="middle">0.1</text>
<text x="295.25" y="145.4" font-size="2.8" text-anchor="middle">1</text>
<text x="310.25" y="145.4" font-size="2.8" text-anchor="middle">10</text>
<text x="325.25" y="145.4" font-size="2.8" text-anchor="middle">100</text>
<text x="340.25" y="145.4" font-size="2.8" text-anchor="middle">1,000</text>
<text x="355.25" y="145.4" font-size="2.8" text-anchor="middle">10,000</text>
<text x="301.75" y="150.7" font-size="3.25" text-anchor="start">Concentration (nmol/L)</text>
<text transform="translate(271.45 115.6) rotate(-90)" font-size="3.2" text-anchor="middle">Inhibition rate (%)</text>
<polyline points="283,134.72 283.72,134.72 284.44,134.72 285.17,134.72 285.89,134.72 286.62,134.72 287.34,134.72 288.07,134.72 288.79,134.72 289.52,134.72 290.24,134.72 290.97,134.72 291.69,134.72 292.42,134.72 293.14,134.71 293.87,134.71 294.59,134.71 295.32,134.71 296.04,134.71 296.77,134.71 297.49,134.7 298.22,134.7 298.94,134.7 299.66,134.69 300.39,134.69 301.11,134.69 301.84,134.68 302.56,134.68 303.29,134.67 304.01,134.67 304.74,134.66 305.46,134.65 306.19,134.64 306.91,134.64 307.64,134.63 308.36,134.61 309.09,134.6 309.81,134.59 310.54,134.57 311.26,134.56 311.99,134.54 312.71,134.52 313.43,134.5 314.16,134.47 314.88,134.45 315.61,134.42 316.33,134.39 317.06,134.35 317.78,134.32 318.51,134.28 319.23,134.23 319.96,134.19 320.68,134.14 321.41,134.09 322.13,134.04 322.86,133.98 323.58,133.92 324.31,133.86 325.03,133.8 325.76,133.73 326.48,133.67 327.2,133.6 327.93,133.53 328.65,133.46 329.38,133.39 330.1,133.33 330.83,133.26 331.55,133.2 332.28,133.13 333,133.07 333.73,133.01 334.45,132.96 335.18,132.9 335.9,132.85 336.63,132.81 337.35,132.76 338.08,132.72 338.8,132.68 339.53,132.64 340.25,132.61" fill="none" stroke="#e32428" stroke-width="0.5"/>
<circle cx="283" cy="134.55" r="0.95" fill="#e32428"/>
<circle cx="290.15" cy="134.55" r="0.95" fill="#e32428"/>
<circle cx="297.31" cy="134.09" r="0.95" fill="#e32428"/>
<circle cx="304.47" cy="136.3" r="0.95" fill="#e32428"/>
<circle cx="311.62" cy="134.9" r="0.95" fill="#e32428"/>
<circle cx="318.78" cy="134.45" r="0.95" fill="#e32428"/>
<circle cx="325.94" cy="133.61" r="0.95" fill="#e32428"/>
<circle cx="333.09" cy="132.45" r="0.95" fill="#e32428"/>
<circle cx="340.25" cy="132.45" r="0.95" fill="#e32428"/>
<polyline points="283,133.16 283.72,133.15 284.44,133.14 285.17,133.14 285.89,133.13 286.62,133.12 287.34,133.1 288.07,133.09 288.79,133.07 289.52,133.05 290.24,133.02 290.97,132.99 291.69,132.94 292.42,132.9 293.14,132.84 293.87,132.77 294.59,132.68 295.32,132.58 296.04,132.46 296.77,132.32 297.49,132.14 298.22,131.94 298.94,131.69 299.66,131.4 300.39,131.05 301.11,130.64 301.84,130.16 302.56,129.6 303.29,128.95 304.01,128.2 304.74,127.35 305.46,126.38 306.19,125.3 306.91,124.1 307.64,122.79 308.36,121.38 309.09,119.88 309.81,118.33 310.54,116.73 311.26,115.12 311.99,113.53 312.71,111.99 313.43,110.51 314.16,109.13 314.88,107.84 315.61,106.67 316.33,105.61 317.06,104.67 317.78,103.84 318.51,103.12 319.23,102.49 319.96,101.95 320.68,101.48 321.41,101.09 322.13,100.76 322.86,100.48 323.58,100.24 324.31,100.04 325.03,99.88 325.76,99.74 326.48,99.62 327.2,99.52 327.93,99.44 328.65,99.38 329.38,99.32 330.1,99.27 330.83,99.24 331.55,99.2 332.28,99.18 333,99.15 333.73,99.14 334.45,99.12 335.18,99.11 335.9,99.1 336.63,99.09 337.35,99.08 338.08,99.08 338.8,99.07 339.53,99.07 340.25,99.06" fill="none" stroke="#52bb32" stroke-width="0.5"/>
<path d="M283 131.76L284.04 133.56L281.95 133.56Z" fill="#52bb32"/>
<path d="M290.15 131.76L291.2 133.56L289.11 133.56Z" fill="#52bb32"/>
<path d="M297.31 131.41L298.35 133.21L296.26 133.21Z" fill="#52bb32"/>
<path d="M304.47 127.31L305.51 129.12L303.42 129.12Z" fill="#52bb32"/>
<path d="M311.62 112.51L312.67 114.31L310.58 114.31Z" fill="#52bb32"/>
<path d="M318.78 102.7L319.82 104.51L317.73 104.51Z" fill="#52bb32"/>
<path d="M325.94 99L326.98 100.8L324.89 100.8Z" fill="#52bb32"/>
<path d="M333.09 98.51L334.14 100.31L332.05 100.31Z" fill="#52bb32"/>
<path d="M340.25 96.83L341.3 98.63L339.2 98.63Z" fill="#52bb32"/>
<polyline points="283,129.65 283.72,129.63 284.44,129.61 285.17,129.59 285.89,129.56 286.62,129.53 287.34,129.49 288.07,129.45 288.79,129.41 289.52,129.36 290.24,129.31 290.97,129.25 291.69,129.19 292.42,129.12 293.14,129.03 293.87,128.95 294.59,128.85 295.32,128.74 296.04,128.62 296.77,128.48 297.49,128.33 298.22,128.17 298.94,127.99 299.66,127.79 300.39,127.57 301.11,127.33 301.84,127.07 302.56,126.78 303.29,126.47 304.01,126.12 304.74,125.75 305.46,125.35 306.19,124.91 306.91,124.44 307.64,123.94 308.36,123.4 309.09,122.83 309.81,122.22 310.54,121.57 311.26,120.89 311.99,120.18 312.71,119.45 313.43,118.68 314.16,117.89 314.88,117.08 315.61,116.26 316.33,115.43 317.06,114.59 317.78,113.75 318.51,112.91 319.23,112.09 319.96,111.28 320.68,110.48 321.41,109.71 322.13,108.97 322.86,108.25 323.58,107.56 324.31,106.91 325.03,106.29 325.76,105.71 326.48,105.16 327.2,104.65 327.93,104.18 328.65,103.73 329.38,103.32 330.1,102.94 330.83,102.59 331.55,102.27 332.28,101.98 333,101.71 333.73,101.46 334.45,101.24 335.18,101.04 335.9,100.85 336.63,100.68 337.35,100.53 338.08,100.4 338.8,100.27 339.53,100.16 340.25,100.06" fill="none" stroke="#0a0aff" stroke-width="0.5"/>
<path d="M283 129.16V130" stroke="#0a0aff" stroke-width="0.6"/>
<rect x="282.05" y="128.63" width="1.9" height="1.9" fill="#0a0aff"/>
<rect x="289.2" y="128.21" width="1.9" height="1.9" fill="#0a0aff"/>
<rect x="296.36" y="127.41" width="1.9" height="1.9" fill="#0a0aff"/>
<rect x="303.52" y="125.76" width="1.9" height="1.9" fill="#0a0aff"/>
<rect x="310.67" y="118.9" width="1.9" height="1.9" fill="#0a0aff"/>
<rect x="317.83" y="111.76" width="1.9" height="1.9" fill="#0a0aff"/>
<rect x="324.99" y="104.9" width="1.9" height="1.9" fill="#0a0aff"/>
<rect x="332.14" y="100.56" width="1.9" height="1.9" fill="#0a0aff"/>
<rect x="339.3" y="99.09" width="1.9" height="1.9" fill="#0a0aff"/>
<path d="M342.8 97.6h3.2" stroke="#0a0aff" stroke-width="0.6"/>
<rect x="343.6" y="96.8" width="1.6" height="1.6" fill="#0a0aff"/>
<text x="347.4" y="99.55" font-size="3.2" text-anchor="start">DB-1419</text>
<path d="M342.8 102.6h3.2" stroke="#e32428" stroke-width="0.6"/>
<circle cx="344.4" cy="102.6" r="0.8" fill="#e32428"/>
<text x="347.4" y="104.55" font-size="3.2" text-anchor="start">DB-141902</text>
<path d="M342.8 107.25h3.2" stroke="#52bb32" stroke-width="0.6"/>
<path d="M344.4 106.37L345.28 107.89L343.52 107.89Z" fill="#52bb32"/>
<text x="347.4" y="109.2" font-size="3.2" text-anchor="start">P1003</text>
<text x="347.4" y="112.75" font-size="3.2">IC<tspan font-size="1.984" dy="0.8">50</tspan><tspan dy="-0.8"> (DB-1419) = 27.520</tspan></text>
<text x="347.4" y="120" font-size="3.2">IC<tspan font-size="1.984" dy="0.8">50</tspan><tspan dy="-0.8"> (DB-141902) = NA</tspan></text>
<text x="347.4" y="124.35" font-size="3.2">IC<tspan font-size="1.984" dy="0.8">50</tspan><tspan dy="-0.8"> (P1003) = 10.640</tspan></text>
<text x="383" y="116.85" font-size="3.2" text-anchor="end">nmol/L</text>
<text x="379.4" y="127.5" font-size="3.2" text-anchor="end">nmol/L</text>
<text x="416" y="88.65" font-size="3.3" text-anchor="start">MDA-MB-231, breast cancer</text>
<path d="M398.5 90.5V139.7H473.5" fill="none" stroke="#444" stroke-width="0.55"/>
<path d="M397.3 139.7H398.5M397.3 132.67H398.5M397.3 125.64H398.5M397.3 118.61H398.5M397.3 111.59H398.5M397.3 104.56H398.5M397.3 97.53H398.5M397.3 90.5H398.5M398.5 139.7v1.1M413.5 139.7v1.1M428.5 139.7v1.1M443.5 139.7v1.1M458.5 139.7v1.1M473.5 139.7v1.1" stroke="#444" stroke-width="0.5"/>
<text x="396.5" y="140.7" font-size="2.8" text-anchor="end">&#8722;20</text>
<text x="396.5" y="133.67" font-size="2.8" text-anchor="end">0</text>
<text x="396.5" y="126.64" font-size="2.8" text-anchor="end">20</text>
<text x="396.5" y="119.61" font-size="2.8" text-anchor="end">40</text>
<text x="396.5" y="112.59" font-size="2.8" text-anchor="end">60</text>
<text x="396.5" y="105.56" font-size="2.8" text-anchor="end">80</text>
<text x="396.5" y="98.53" font-size="2.8" text-anchor="end">100</text>
<text x="396.5" y="91.5" font-size="2.8" text-anchor="end">120</text>
<text x="398.5" y="145.3" font-size="2.8" text-anchor="middle">0.1</text>
<text x="413.5" y="145.3" font-size="2.8" text-anchor="middle">1</text>
<text x="428.5" y="145.3" font-size="2.8" text-anchor="middle">10</text>
<text x="443.5" y="145.3" font-size="2.8" text-anchor="middle">100</text>
<text x="458.5" y="145.3" font-size="2.8" text-anchor="middle">1,000</text>
<text x="473.5" y="145.3" font-size="2.8" text-anchor="middle">10,000</text>
<text x="420" y="150.6" font-size="3.25" text-anchor="start">Concentration (nmol/L)</text>
<text transform="translate(391.7 115.4) rotate(-90)" font-size="3.2" text-anchor="middle">Inhibition rate (%)</text>
<polyline points="401.25,134.71 401.97,134.71 402.69,134.71 403.42,134.71 404.14,134.71 404.87,134.71 405.59,134.71 406.32,134.71 407.04,134.71 407.77,134.71 408.49,134.71 409.22,134.71 409.94,134.71 410.67,134.71 411.39,134.71 412.12,134.71 412.84,134.71 413.57,134.71 414.29,134.71 415.02,134.71 415.74,134.71 416.47,134.71 417.19,134.71 417.91,134.71 418.64,134.71 419.36,134.71 420.09,134.71 420.81,134.71 421.54,134.71 422.26,134.71 422.99,134.71 423.71,134.71 424.44,134.71 425.16,134.71 425.89,134.71 426.61,134.71 427.34,134.71 428.06,134.71 428.79,134.71 429.51,134.71 430.24,134.71 430.96,134.71 431.68,134.71 432.41,134.71 433.13,134.71 433.86,134.71 434.58,134.71 435.31,134.71 436.03,134.71 436.76,134.71 437.48,134.71 438.21,134.71 438.93,134.71 439.66,134.71 440.38,134.71 441.11,134.71 441.83,134.71 442.56,134.71 443.28,134.71 444.01,134.71 444.73,134.71 445.45,134.71 446.18,134.71 446.9,134.71 447.63,134.71 448.35,134.71 449.08,134.71 449.8,134.71 450.53,134.71 451.25,134.71 451.98,134.71 452.7,134.71 453.43,134.71 454.15,134.71 454.88,134.71 455.6,134.71 456.33,134.71 457.05,134.71 457.78,134.71 458.5,134.71" fill="none" stroke="#e32428" stroke-width="0.5"/>
<circle cx="401.25" cy="134.64" r="0.95" fill="#e32428"/>
<circle cx="408.4" cy="134.64" r="0.95" fill="#e32428"/>
<circle cx="415.56" cy="134.64" r="0.95" fill="#e32428"/>
<circle cx="422.72" cy="135.13" r="0.95" fill="#e32428"/>
<circle cx="429.87" cy="135.13" r="0.95" fill="#e32428"/>
<circle cx="437.03" cy="135.13" r="0.95" fill="#e32428"/>
<circle cx="444.19" cy="134.64" r="0.95" fill="#e32428"/>
<circle cx="451.34" cy="134.64" r="0.95" fill="#e32428"/>
<circle cx="458.5" cy="134.64" r="0.95" fill="#e32428"/>
<polyline points="401.25,133.61 401.97,133.58 402.69,133.54 403.42,133.5 404.14,133.45 404.87,133.4 405.59,133.34 406.32,133.27 407.04,133.19 407.77,133.1 408.49,133 409.22,132.88 409.94,132.75 410.67,132.6 411.39,132.44 412.12,132.25 412.84,132.04 413.57,131.8 414.29,131.53 415.02,131.23 415.74,130.9 416.47,130.53 417.19,130.12 417.91,129.66 418.64,129.16 419.36,128.61 420.09,128.01 420.81,127.36 421.54,126.66 422.26,125.91 422.99,125.11 423.71,124.25 424.44,123.36 425.16,122.43 425.89,121.47 426.61,120.48 427.34,119.47 428.06,118.46 428.79,117.45 429.51,116.45 430.24,115.46 430.96,114.5 431.68,113.58 432.41,112.69 433.13,111.85 433.86,111.05 434.58,110.31 435.31,109.61 436.03,108.97 436.76,108.38 437.48,107.84 438.21,107.34 438.93,106.89 439.66,106.49 440.38,106.12 441.11,105.8 441.83,105.5 442.56,105.24 443.28,105.01 444.01,104.8 444.73,104.62 445.45,104.45 446.18,104.31 446.9,104.18 447.63,104.07 448.35,103.97 449.08,103.88 449.8,103.8 450.53,103.73 451.25,103.67 451.98,103.62 452.7,103.58 453.43,103.54 454.15,103.5 454.88,103.47 455.6,103.44 456.33,103.42 457.05,103.4 457.78,103.38 458.5,103.36" fill="none" stroke="#52bb32" stroke-width="0.5"/>
<path d="M401.25 131.98L402.29 133.78L400.2 133.78Z" fill="#52bb32"/>
<path d="M408.4 131.98L409.45 133.78L407.36 133.78Z" fill="#52bb32"/>
<path d="M415.56 130.64L416.6 132.45L414.51 132.45Z" fill="#52bb32"/>
<path d="M422.72 124.6L423.76 126.4L421.67 126.4Z" fill="#52bb32"/>
<path d="M429.87 114.05L430.92 115.86L428.83 115.86Z" fill="#52bb32"/>
<path d="M437.03 107.55L438.07 109.36L435.98 109.36Z" fill="#52bb32"/>
<path d="M444.19 104.74L445.23 106.55L443.14 106.55Z" fill="#52bb32"/>
<path d="M451.34 102.91L452.39 104.72L450.3 104.72Z" fill="#52bb32"/>
<path d="M458.5 101.05L459.55 102.86L457.45 102.86Z" fill="#52bb32"/>
<polyline points="401.25,131.19 401.97,131.19 402.69,131.19 403.42,131.19 404.14,131.18 404.87,131.18 405.59,131.17 406.32,131.17 407.04,131.16 407.77,131.16 408.49,131.15 409.22,131.14 409.94,131.13 410.67,131.12 411.39,131.11 412.12,131.1 412.84,131.08 413.57,131.07 414.29,131.05 415.02,131.03 415.74,131 416.47,130.98 417.19,130.95 417.91,130.92 418.64,130.88 419.36,130.84 420.09,130.79 420.81,130.74 421.54,130.68 422.26,130.62 422.99,130.54 423.71,130.46 424.44,130.37 425.16,130.27 425.89,130.16 426.61,130.03 427.34,129.89 428.06,129.74 428.79,129.57 429.51,129.38 430.24,129.17 430.96,128.93 431.68,128.68 432.41,128.4 433.13,128.09 433.86,127.76 434.58,127.39 435.31,127 436.03,126.57 436.76,126.11 437.48,125.62 438.21,125.1 438.93,124.54 439.66,123.95 440.38,123.34 441.11,122.7 441.83,122.03 442.56,121.34 443.28,120.64 444.01,119.93 444.73,119.21 445.45,118.48 446.18,117.76 446.9,117.05 447.63,116.35 448.35,115.67 449.08,115 449.8,114.36 450.53,113.75 451.25,113.17 451.98,112.62 452.7,112.1 453.43,111.61 454.15,111.16 454.88,110.73 455.6,110.34 456.33,109.98 457.05,109.65 457.78,109.35 458.5,109.07" fill="none" stroke="#0a0aff" stroke-width="0.5"/>
<rect x="400.3" y="130.25" width="1.9" height="1.9" fill="#0a0aff"/>
<rect x="407.45" y="130.25" width="1.9" height="1.9" fill="#0a0aff"/>
<rect x="414.61" y="130.25" width="1.9" height="1.9" fill="#0a0aff"/>
<rect x="421.77" y="129.4" width="1.9" height="1.9" fill="#0a0aff"/>
<rect x="428.92" y="128.24" width="1.9" height="1.9" fill="#0a0aff"/>
<rect x="436.08" y="125.04" width="1.9" height="1.9" fill="#0a0aff"/>
<rect x="443.24" y="118.86" width="1.9" height="1.9" fill="#0a0aff"/>
<rect x="450.39" y="112.04" width="1.9" height="1.9" fill="#0a0aff"/>
<rect x="457.55" y="108.18" width="1.9" height="1.9" fill="#0a0aff"/>
<path d="M460.9 103.75h3.2" stroke="#0a0aff" stroke-width="0.6"/>
<rect x="461.7" y="102.95" width="1.6" height="1.6" fill="#0a0aff"/>
<text x="465.5" y="105.7" font-size="3.2" text-anchor="start">DB-1419</text>
<path d="M460.9 107.5h3.2" stroke="#e32428" stroke-width="0.6"/>
<circle cx="462.5" cy="107.5" r="0.8" fill="#e32428"/>
<text x="465.5" y="109.45" font-size="3.2" text-anchor="start">DB-141902</text>
<path d="M460.9 111.25h3.2" stroke="#52bb32" stroke-width="0.6"/>
<path d="M462.5 110.37L463.38 111.89L461.62 111.89Z" fill="#52bb32"/>
<text x="465.5" y="113.2" font-size="3.2" text-anchor="start">P1003</text>
<text x="465.5" y="118" font-size="3.2">IC<tspan font-size="1.984" dy="0.8">50</tspan><tspan dy="-0.8"> (DB-1419) = 121.500 nmol/L</tspan></text>
<text x="465.5" y="122.5" font-size="3.2">IC<tspan font-size="1.984" dy="0.8">50</tspan><tspan dy="-0.8"> (DB-141902) = NA</tspan></text>
<text x="465.5" y="126.75" font-size="3.2">IC<tspan font-size="1.984" dy="0.8">50</tspan><tspan dy="-0.8"> (P1003) = 9.032 nmol/L</tspan></text>
<text x="43" y="164.05" font-size="3.3" text-anchor="start">NCI-H82, lung cancer</text>
<path d="M21.5 163.8V212.8H96.5" fill="none" stroke="#444" stroke-width="0.55"/>
<path d="M20.3 212.8H21.5M20.3 205.8H21.5M20.3 198.8H21.5M20.3 191.8H21.5M20.3 184.8H21.5M20.3 177.8H21.5M20.3 170.8H21.5M20.3 163.8H21.5M21.5 212.8v1.1M36.5 212.8v1.1M51.5 212.8v1.1M66.5 212.8v1.1M81.5 212.8v1.1M96.5 212.8v1.1" stroke="#444" stroke-width="0.5"/>
<text x="19.5" y="213.8" font-size="2.8" text-anchor="end">&#8722;20</text>
<text x="19.5" y="206.8" font-size="2.8" text-anchor="end">0</text>
<text x="19.5" y="199.8" font-size="2.8" text-anchor="end">20</text>
<text x="19.5" y="192.8" font-size="2.8" text-anchor="end">40</text>
<text x="19.5" y="185.8" font-size="2.8" text-anchor="end">60</text>
<text x="19.5" y="178.8" font-size="2.8" text-anchor="end">80</text>
<text x="19.5" y="171.8" font-size="2.8" text-anchor="end">100</text>
<text x="19.5" y="164.8" font-size="2.8" text-anchor="end">120</text>
<text x="21.5" y="218.4" font-size="2.8" text-anchor="middle">0.1</text>
<text x="36.5" y="218.4" font-size="2.8" text-anchor="middle">1</text>
<text x="51.5" y="218.4" font-size="2.8" text-anchor="middle">10</text>
<text x="66.5" y="218.4" font-size="2.8" text-anchor="middle">100</text>
<text x="81.5" y="218.4" font-size="2.8" text-anchor="middle">1,000</text>
<text x="96.5" y="218.4" font-size="2.8" text-anchor="middle">10,000</text>
<text x="43" y="223.7" font-size="3.25" text-anchor="start">Concentration (nmol/L)</text>
<text transform="translate(13.8 188.6) rotate(-90)" font-size="3.2" text-anchor="middle">Inhibition rate (%)</text>
<polyline points="24.25,207.09 24.97,207.09 25.69,207.09 26.42,207.09 27.14,207.09 27.87,207.09 28.59,207.09 29.32,207.09 30.04,207.09 30.77,207.09 31.49,207.09 32.22,207.09 32.94,207.09 33.67,207.09 34.39,207.09 35.12,207.09 35.84,207.09 36.57,207.09 37.29,207.09 38.02,207.09 38.74,207.09 39.47,207.09 40.19,207.09 40.91,207.09 41.64,207.09 42.36,207.09 43.09,207.09 43.81,207.09 44.54,207.09 45.26,207.09 45.99,207.09 46.71,207.09 47.44,207.09 48.16,207.09 48.89,207.09 49.61,207.09 50.34,207.09 51.06,207.09 51.79,207.09 52.51,207.09 53.24,207.09 53.96,207.09 54.68,207.09 55.41,207.09 56.13,207.09 56.86,207.09 57.58,207.09 58.31,207.09 59.03,207.09 59.76,207.09 60.48,207.09 61.21,207.09 61.93,207.09 62.66,207.09 63.38,207.09 64.11,207.09 64.83,207.09 65.56,207.09 66.28,207.09 67.01,207.09 67.73,207.09 68.45,207.09 69.18,207.09 69.9,207.09 70.63,207.09 71.35,207.09 72.08,207.09 72.8,207.09 73.53,207.09 74.25,207.09 74.98,207.09 75.7,207.09 76.43,207.09 77.15,207.09 77.88,207.09 78.6,207.09 79.33,207.09 80.05,207.09 80.78,207.09 81.5,207.09" fill="none" stroke="#e32428" stroke-width="0.5"/>
<circle cx="24.25" cy="207.55" r="0.95" fill="#e32428"/>
<circle cx="31.4" cy="207.09" r="0.95" fill="#e32428"/>
<circle cx="38.56" cy="206.29" r="0.95" fill="#e32428"/>
<circle cx="45.72" cy="209.09" r="0.95" fill="#e32428"/>
<circle cx="52.87" cy="208.43" r="0.95" fill="#e32428"/>
<circle cx="60.03" cy="207.09" r="0.95" fill="#e32428"/>
<circle cx="67.19" cy="205.98" r="0.95" fill="#e32428"/>
<circle cx="74.34" cy="207.55" r="0.95" fill="#e32428"/>
<circle cx="81.5" cy="204.96" r="0.95" fill="#e32428"/>
<polyline points="24.25,204.41 24.97,204.41 25.69,204.41 26.42,204.41 27.14,204.41 27.87,204.41 28.59,204.41 29.32,204.41 30.04,204.41 30.77,204.41 31.49,204.41 32.22,204.41 32.94,204.41 33.67,204.41 34.39,204.41 35.12,204.41 35.84,204.4 36.57,204.4 37.29,204.4 38.02,204.39 38.74,204.38 39.47,204.36 40.19,204.32 40.91,204.25 41.64,204.11 42.36,203.85 43.09,203.36 43.81,202.47 44.54,200.9 45.26,198.32 45.99,194.49 46.71,189.6 47.44,184.45 48.16,180 48.89,176.77 49.61,174.7 50.34,173.49 51.06,172.82 51.79,172.45 52.51,172.26 53.24,172.16 53.96,172.1 54.68,172.07 55.41,172.06 56.13,172.05 56.86,172.05 57.58,172.04 58.31,172.04 59.03,172.04 59.76,172.04 60.48,172.04 61.21,172.04 61.93,172.04 62.66,172.04 63.38,172.04 64.11,172.04 64.83,172.04 65.56,172.04 66.28,172.04 67.01,172.04 67.73,172.04 68.45,172.04 69.18,172.04 69.9,172.04 70.63,172.04 71.35,172.04 72.08,172.04 72.8,172.04 73.53,172.04 74.25,172.04 74.98,172.04 75.7,172.04 76.43,172.04 77.15,172.04 77.88,172.04 78.6,172.04 79.33,172.04 80.05,172.04 80.78,172.04 81.5,172.04" fill="none" stroke="#52bb32" stroke-width="0.5"/>
<path d="M24.25 203.11L25.29 204.91L23.2 204.91Z" fill="#52bb32"/>
<path d="M31.4 202.3V203" stroke="#52bb32" stroke-width="0.6"/>
<path d="M31.4 201.61L32.45 203.41L30.36 203.41Z" fill="#52bb32"/>
<path d="M38.56 203.11L39.6 204.91L37.51 204.91Z" fill="#52bb32"/>
<path d="M45.72 195.03L46.76 196.83L44.67 196.83Z" fill="#52bb32"/>
<path d="M52.87 171.16L53.92 172.96L51.83 172.96Z" fill="#52bb32"/>
<path d="M60.03 171.51L61.07 173.31L58.98 173.31Z" fill="#52bb32"/>
<path d="M67.19 171.51L68.23 173.31L66.14 173.31Z" fill="#52bb32"/>
<path d="M74.34 171.16L75.39 172.96L73.3 172.96Z" fill="#52bb32"/>
<path d="M81.5 169.83L82.55 171.63L80.45 171.63Z" fill="#52bb32"/>
<polyline points="24.25,205.78 24.97,205.78 25.69,205.78 26.42,205.78 27.14,205.78 27.87,205.78 28.59,205.78 29.32,205.78 30.04,205.78 30.77,205.78 31.49,205.78 32.22,205.78 32.94,205.78 33.67,205.78 34.39,205.78 35.12,205.78 35.84,205.78 36.57,205.78 37.29,205.78 38.02,205.78 38.74,205.78 39.47,205.78 40.19,205.78 40.91,205.78 41.64,205.78 42.36,205.78 43.09,205.78 43.81,205.78 44.54,205.77 45.26,205.77 45.99,205.77 46.71,205.77 47.44,205.77 48.16,205.77 48.89,205.77 49.61,205.77 50.34,205.77 51.06,205.76 51.79,205.76 52.51,205.75 53.24,205.75 53.96,205.74 54.68,205.72 55.41,205.7 56.13,205.67 56.86,205.64 57.58,205.59 58.31,205.51 59.03,205.42 59.76,205.28 60.48,205.1 61.21,204.86 61.93,204.53 62.66,204.09 63.38,203.49 64.11,202.72 64.83,201.71 65.56,200.43 66.28,198.83 67.01,196.91 67.73,194.68 68.45,192.2 69.18,189.56 69.9,186.89 70.63,184.31 71.35,181.95 72.08,179.88 72.8,178.13 73.53,176.71 74.25,175.57 74.98,174.69 75.7,174.02 76.43,173.51 77.15,173.13 77.88,172.85 78.6,172.64 79.33,172.48 80.05,172.37 80.78,172.29 81.5,172.23" fill="none" stroke="#0a0aff" stroke-width="0.5"/>
<path d="M24.25 205.45V206.29" stroke="#0a0aff" stroke-width="0.6"/>
<rect x="23.3" y="204.92" width="1.9" height="1.9" fill="#0a0aff"/>
<path d="M31.4 207.9V209.09" stroke="#0a0aff" stroke-width="0.6"/>
<rect x="30.45" y="207.55" width="1.9" height="1.9" fill="#0a0aff"/>
<rect x="37.61" y="205.83" width="1.9" height="1.9" fill="#0a0aff"/>
<rect x="44.77" y="206.6" width="1.9" height="1.9" fill="#0a0aff"/>
<path d="M52.87 205.1V205.8" stroke="#0a0aff" stroke-width="0.6"/>
<rect x="51.92" y="204.5" width="1.9" height="1.9" fill="#0a0aff"/>
<rect x="59.08" y="204.85" width="1.9" height="1.9" fill="#0a0aff"/>
<rect x="66.24" y="195.4" width="1.9" height="1.9" fill="#0a0aff"/>
<rect x="73.39" y="174.54" width="1.9" height="1.9" fill="#0a0aff"/>
<rect x="80.55" y="171.25" width="1.9" height="1.9" fill="#0a0aff"/>
<path d="M83.65 170.25h3.2" stroke="#0a0aff" stroke-width="0.6"/>
<rect x="84.45" y="169.45" width="1.6" height="1.6" fill="#0a0aff"/>
<text x="88.25" y="172.2" font-size="3.2" text-anchor="start">DB-1419</text>
<path d="M83.65 174.4h3.2" stroke="#e32428" stroke-width="0.6"/>
<circle cx="85.25" cy="174.4" r="0.8" fill="#e32428"/>
<text x="88.25" y="176.35" font-size="3.2" text-anchor="start">DB-141902</text>
<path d="M83.65 178.75h3.2" stroke="#52bb32" stroke-width="0.6"/>
<path d="M85.25 177.87L86.13 179.39L84.37 179.39Z" fill="#52bb32"/>
<text x="88.25" y="180.7" font-size="3.2" text-anchor="start">P1003</text>
<text x="88.25" y="184.85" font-size="3.2">IC<tspan font-size="1.984" dy="0.8">50</tspan><tspan dy="-0.8"> (DB-1419) = 154.100 nmol/L</tspan></text>
<text x="88.25" y="189.5" font-size="3.2">IC<tspan font-size="1.984" dy="0.8">50</tspan><tspan dy="-0.8"> (DB-141902) = NA</tspan></text>
<text x="88.25" y="194" font-size="3.2">IC<tspan font-size="1.984" dy="0.8">50</tspan><tspan dy="-0.8"> (P1003) = 4.965 nmol/L</tspan></text>
<text x="175.6" y="164.15" font-size="3.3" text-anchor="start">KYSE-150, ESCC</text>
<path d="M152.25 163.8V213.3H227.25" fill="none" stroke="#444" stroke-width="0.55"/>
<path d="M151.05 213.3H152.25M151.05 206.23H152.25M151.05 199.16H152.25M151.05 192.09H152.25M151.05 185.01H152.25M151.05 177.94H152.25M151.05 170.87H152.25M151.05 163.8H152.25M152.25 213.3v1.1M167.25 213.3v1.1M182.25 213.3v1.1M197.25 213.3v1.1M212.25 213.3v1.1M227.25 213.3v1.1" stroke="#444" stroke-width="0.5"/>
<text x="150.25" y="214.3" font-size="2.8" text-anchor="end">&#8722;20</text>
<text x="150.25" y="207.23" font-size="2.8" text-anchor="end">0</text>
<text x="150.25" y="200.16" font-size="2.8" text-anchor="end">20</text>
<text x="150.25" y="193.09" font-size="2.8" text-anchor="end">40</text>
<text x="150.25" y="186.01" font-size="2.8" text-anchor="end">60</text>
<text x="150.25" y="178.94" font-size="2.8" text-anchor="end">80</text>
<text x="150.25" y="171.87" font-size="2.8" text-anchor="end">100</text>
<text x="150.25" y="164.8" font-size="2.8" text-anchor="end">120</text>
<text x="152.25" y="218.9" font-size="2.8" text-anchor="middle">0.1</text>
<text x="167.25" y="218.9" font-size="2.8" text-anchor="middle">1</text>
<text x="182.25" y="218.9" font-size="2.8" text-anchor="middle">10</text>
<text x="197.25" y="218.9" font-size="2.8" text-anchor="middle">100</text>
<text x="212.25" y="218.9" font-size="2.8" text-anchor="middle">1,000</text>
<text x="227.25" y="218.9" font-size="2.8" text-anchor="middle">10,000</text>
<text x="173.75" y="224.2" font-size="3.25" text-anchor="start">Concentration (nmol/L)</text>
<text transform="translate(144.15 188.85) rotate(-90)" font-size="3.2" text-anchor="middle">Inhibition rate (%)</text>
<polyline points="155,208.88 155.72,208.88 156.44,208.88 157.17,208.88 157.89,208.88 158.62,208.88 159.34,208.88 160.07,208.88 160.79,208.88 161.52,208.88 162.24,208.88 162.97,208.88 163.69,208.88 164.42,208.88 165.14,208.88 165.87,208.88 166.59,208.88 167.32,208.88 168.04,208.88 168.77,208.88 169.49,208.88 170.22,208.87 170.94,208.87 171.66,208.87 172.39,208.87 173.11,208.87 173.84,208.87 174.56,208.87 175.29,208.87 176.01,208.87 176.74,208.87 177.46,208.86 178.19,208.86 178.91,208.86 179.64,208.86 180.36,208.85 181.09,208.85 181.81,208.85 182.54,208.84 183.26,208.84 183.99,208.84 184.71,208.83 185.43,208.82 186.16,208.82 186.88,208.81 187.61,208.8 188.33,208.79 189.06,208.78 189.78,208.77 190.51,208.76 191.23,208.75 191.96,208.73 192.68,208.71 193.41,208.7 194.13,208.67 194.86,208.65 195.58,208.63 196.31,208.6 197.03,208.57 197.76,208.53 198.48,208.49 199.2,208.45 199.93,208.4 200.65,208.35 201.38,208.3 202.1,208.24 202.83,208.17 203.55,208.1 204.28,208.02 205,207.94 205.73,207.85 206.45,207.75 207.18,207.65 207.9,207.54 208.63,207.42 209.35,207.3 210.08,207.17 210.8,207.04 211.53,206.9 212.25,206.76" fill="none" stroke="#e32428" stroke-width="0.5"/>
<circle cx="155" cy="208.7" r="0.95" fill="#e32428"/>
<circle cx="162.15" cy="208.35" r="0.95" fill="#e32428"/>
<circle cx="169.31" cy="209.06" r="0.95" fill="#e32428"/>
<circle cx="176.47" cy="209.52" r="0.95" fill="#e32428"/>
<circle cx="183.62" cy="209.52" r="0.95" fill="#e32428"/>
<circle cx="190.78" cy="208.35" r="0.95" fill="#e32428"/>
<circle cx="197.94" cy="208.7" r="0.95" fill="#e32428"/>
<circle cx="205.09" cy="207.54" r="0.95" fill="#e32428"/>
<circle cx="212.25" cy="206.23" r="0.95" fill="#e32428"/>
<polyline points="155,206.59 155.72,206.59 156.44,206.59 157.17,206.59 157.89,206.59 158.62,206.59 159.34,206.59 160.07,206.59 160.79,206.59 161.52,206.59 162.24,206.59 162.97,206.59 163.69,206.59 164.42,206.59 165.14,206.59 165.87,206.59 166.59,206.59 167.32,206.59 168.04,206.59 168.77,206.59 169.49,206.59 170.22,206.59 170.94,206.59 171.66,206.59 172.39,206.59 173.11,206.59 173.84,206.59 174.56,206.58 175.29,206.58 176.01,206.57 176.74,206.54 177.46,206.51 178.19,206.44 178.91,206.32 179.64,206.1 180.36,205.72 181.09,205.07 181.81,203.95 182.54,202.13 183.26,199.34 183.99,195.46 184.71,190.74 185.43,185.83 186.16,181.5 186.88,178.2 187.61,175.95 188.33,174.54 189.06,173.69 189.78,173.2 190.51,172.92 191.23,172.76 191.96,172.67 192.68,172.62 193.41,172.59 194.13,172.58 194.86,172.57 195.58,172.56 196.31,172.56 197.03,172.56 197.76,172.56 198.48,172.56 199.2,172.56 199.93,172.56 200.65,172.56 201.38,172.56 202.1,172.56 202.83,172.56 203.55,172.56 204.28,172.56 205,172.56 205.73,172.56 206.45,172.56 207.18,172.56 207.9,172.56 208.63,172.56 209.35,172.56 210.08,172.56 210.8,172.56 211.53,172.56 212.25,172.56" fill="none" stroke="#52bb32" stroke-width="0.5"/>
<path d="M183.62 196.49L184.67 198.29L182.58 198.29Z" fill="#52bb32"/>
<path d="M190.78 171.81L191.82 173.61L189.73 173.61Z" fill="#52bb32"/>
<path d="M197.94 171.49L198.98 173.29L196.89 173.29Z" fill="#52bb32"/>
<path d="M205.09 171.81L206.14 173.61L204.05 173.61Z" fill="#52bb32"/>
<path d="M212.25 171.24L213.29 173.05L211.21 173.05Z" fill="#52bb32"/>
<polyline points="155,204.47 155.72,204.47 156.44,204.47 157.17,204.47 157.89,204.47 158.62,204.47 159.34,204.47 160.07,204.47 160.79,204.47 161.52,204.47 162.24,204.47 162.97,204.47 163.69,204.47 164.42,204.47 165.14,204.47 165.87,204.47 166.59,204.47 167.32,204.47 168.04,204.47 168.77,204.47 169.49,204.47 170.22,204.47 170.94,204.47 171.66,204.47 172.39,204.47 173.11,204.47 173.84,204.47 174.56,204.47 175.29,204.47 176.01,204.47 176.74,204.47 177.46,204.47 178.19,204.47 178.91,204.47 179.64,204.47 180.36,204.46 181.09,204.46 181.81,204.46 182.54,204.46 183.26,204.45 183.99,204.45 184.71,204.44 185.43,204.43 186.16,204.41 186.88,204.39 187.61,204.36 188.33,204.32 189.06,204.27 189.78,204.21 190.51,204.12 191.23,204 191.96,203.84 192.68,203.63 193.41,203.35 194.13,202.98 194.86,202.5 195.58,201.87 196.31,201.07 197.03,200.06 197.76,198.81 198.48,197.29 199.2,195.51 199.93,193.47 200.65,191.23 201.38,188.87 202.1,186.49 202.83,184.18 203.55,182.04 204.28,180.13 205,178.48 205.73,177.1 206.45,175.98 207.18,175.09 207.9,174.38 208.63,173.83 209.35,173.42 210.08,173.1 210.8,172.85 211.53,172.67 212.25,172.53" fill="none" stroke="#0a0aff" stroke-width="0.5"/>
<rect x="154.05" y="203.16" width="1.9" height="1.9" fill="#0a0aff"/>
<rect x="161.2" y="203.16" width="1.9" height="1.9" fill="#0a0aff"/>
<rect x="168.36" y="203.62" width="1.9" height="1.9" fill="#0a0aff"/>
<rect x="175.52" y="204.11" width="1.9" height="1.9" fill="#0a0aff"/>
<rect x="182.67" y="204.11" width="1.9" height="1.9" fill="#0a0aff"/>
<rect x="189.83" y="202.8" width="1.9" height="1.9" fill="#0a0aff"/>
<rect x="196.99" y="197.5" width="1.9" height="1.9" fill="#0a0aff"/>
<rect x="204.14" y="177.35" width="1.9" height="1.9" fill="#0a0aff"/>
<rect x="211.3" y="171.58" width="1.9" height="1.9" fill="#0a0aff"/>
<path d="M214 172.5h3.2" stroke="#0a0aff" stroke-width="0.6"/>
<rect x="214.8" y="171.7" width="1.6" height="1.6" fill="#0a0aff"/>
<text x="218.6" y="174.45" font-size="3.2" text-anchor="start">DB-1419</text>
<path d="M214 177.1h3.2" stroke="#e32428" stroke-width="0.6"/>
<circle cx="215.6" cy="177.1" r="0.8" fill="#e32428"/>
<text x="218.6" y="179.05" font-size="3.2" text-anchor="start">DB-141902</text>
<path d="M214 181.5h3.2" stroke="#52bb32" stroke-width="0.6"/>
<path d="M215.6 180.62L216.48 182.14L214.72 182.14Z" fill="#52bb32"/>
<text x="218.6" y="183.45" font-size="3.2" text-anchor="start">P1003</text>
<text x="218.6" y="188" font-size="3.2">IC<tspan font-size="1.984" dy="0.8">50</tspan><tspan dy="-0.8"> (DB-1419) = 150.500 nmol/L</tspan></text>
<text x="218.6" y="193.65" font-size="3.2">IC<tspan font-size="1.984" dy="0.8">50</tspan><tspan dy="-0.8"> (DB-141902) = NA</tspan></text>
<text x="218.6" y="198" font-size="3.2">IC<tspan font-size="1.984" dy="0.8">50</tspan><tspan dy="-0.8"> (P1003) = 14.960 nmol/L</tspan></text>
<text x="301.6" y="164.15" font-size="3.3" text-anchor="start">NCI-H1975, lung cancer</text>
<path d="M280.9 163.8V213.3H355.9" fill="none" stroke="#444" stroke-width="0.55"/>
<path d="M279.7 213.3H280.9M279.7 206.23H280.9M279.7 199.16H280.9M279.7 192.09H280.9M279.7 185.01H280.9M279.7 177.94H280.9M279.7 170.87H280.9M279.7 163.8H280.9M280.9 213.3v1.1M295.9 213.3v1.1M310.9 213.3v1.1M325.9 213.3v1.1M340.9 213.3v1.1M355.9 213.3v1.1" stroke="#444" stroke-width="0.5"/>
<text x="278.9" y="214.3" font-size="2.8" text-anchor="end">&#8722;20</text>
<text x="278.9" y="207.23" font-size="2.8" text-anchor="end">0</text>
<text x="278.9" y="200.16" font-size="2.8" text-anchor="end">20</text>
<text x="278.9" y="193.09" font-size="2.8" text-anchor="end">40</text>
<text x="278.9" y="186.01" font-size="2.8" text-anchor="end">60</text>
<text x="278.9" y="178.94" font-size="2.8" text-anchor="end">80</text>
<text x="278.9" y="171.87" font-size="2.8" text-anchor="end">100</text>
<text x="278.9" y="164.8" font-size="2.8" text-anchor="end">120</text>
<text x="280.9" y="218.9" font-size="2.8" text-anchor="middle">0.1</text>
<text x="295.9" y="218.9" font-size="2.8" text-anchor="middle">1</text>
<text x="310.9" y="218.9" font-size="2.8" text-anchor="middle">10</text>
<text x="325.9" y="218.9" font-size="2.8" text-anchor="middle">100</text>
<text x="340.9" y="218.9" font-size="2.8" text-anchor="middle">1,000</text>
<text x="355.9" y="218.9" font-size="2.8" text-anchor="middle">10,000</text>
<text x="302.4" y="224.2" font-size="3.25" text-anchor="start">Concentration (nmol/L)</text>
<text transform="translate(273.2 188.85) rotate(-90)" font-size="3.2" text-anchor="middle">Inhibition rate (%)</text>
<polyline points="283.65,209.06 284.37,209.06 285.09,209.06 285.82,209.06 286.54,209.06 287.27,209.06 287.99,209.06 288.72,209.06 289.44,209.06 290.17,209.06 290.89,209.06 291.62,209.06 292.34,209.06 293.07,209.06 293.79,209.06 294.52,209.05 295.24,209.05 295.97,209.05 296.69,209.05 297.42,209.05 298.14,209.05 298.87,209.05 299.59,209.05 300.31,209.05 301.04,209.05 301.76,209.05 302.49,209.05 303.21,209.05 303.94,209.05 304.66,209.05 305.39,209.05 306.11,209.04 306.84,209.04 307.56,209.04 308.29,209.04 309.01,209.04 309.74,209.03 310.46,209.03 311.19,209.03 311.91,209.02 312.64,209.02 313.36,209.02 314.08,209.01 314.81,209.01 315.53,209 316.26,208.99 316.98,208.99 317.71,208.98 318.43,208.97 319.16,208.96 319.88,208.95 320.61,208.93 321.33,208.92 322.06,208.9 322.78,208.89 323.51,208.87 324.23,208.85 324.96,208.82 325.68,208.8 326.41,208.77 327.13,208.73 327.85,208.7 328.58,208.66 329.3,208.62 330.03,208.57 330.75,208.52 331.48,208.46 332.2,208.4 332.93,208.33 333.65,208.26 334.38,208.18 335.1,208.09 335.83,208 336.55,207.9 337.28,207.79 338,207.68 338.73,207.56 339.45,207.44 340.18,207.31 340.9,207.17" fill="none" stroke="#e32428" stroke-width="0.5"/>
<circle cx="283.65" cy="208.7" r="0.95" fill="#e32428"/>
<circle cx="290.8" cy="208.7" r="0.95" fill="#e32428"/>
<circle cx="297.96" cy="209.52" r="0.95" fill="#e32428"/>
<circle cx="305.12" cy="209.52" r="0.95" fill="#e32428"/>
<circle cx="312.27" cy="208.7" r="0.95" fill="#e32428"/>
<circle cx="319.43" cy="209.2" r="0.95" fill="#e32428"/>
<circle cx="326.59" cy="207.54" r="0.95" fill="#e32428"/>
<circle cx="333.74" cy="207.54" r="0.95" fill="#e32428"/>
<circle cx="340.9" cy="205.88" r="0.95" fill="#e32428"/>
<polyline points="283.65,205.22 284.37,205.22 285.09,205.22 285.82,205.22 286.54,205.22 287.27,205.22 287.99,205.22 288.72,205.22 289.44,205.22 290.17,205.22 290.89,205.22 291.62,205.22 292.34,205.22 293.07,205.22 293.79,205.22 294.52,205.22 295.24,205.22 295.97,205.21 296.69,205.21 297.42,205.21 298.14,205.2 298.87,205.2 299.59,205.19 300.31,205.17 301.04,205.16 301.76,205.13 302.49,205.1 303.21,205.06 303.94,205 304.66,204.92 305.39,204.82 306.11,204.68 306.84,204.5 307.56,204.26 308.29,203.94 309.01,203.52 309.74,202.96 310.46,202.25 311.19,201.34 311.91,200.19 312.64,198.78 313.36,197.09 314.08,195.11 314.81,192.89 315.53,190.49 316.26,187.99 316.98,185.51 317.71,183.15 318.43,180.99 319.16,179.1 319.88,177.49 320.61,176.16 321.33,175.09 322.06,174.24 322.78,173.57 323.51,173.06 324.23,172.67 324.96,172.38 325.68,172.15 326.41,171.99 327.13,171.86 327.85,171.77 328.58,171.7 329.3,171.65 330.03,171.61 330.75,171.58 331.48,171.56 332.2,171.54 332.93,171.53 333.65,171.52 334.38,171.51 335.1,171.51 335.83,171.5 336.55,171.5 337.28,171.5 338,171.5 338.73,171.5 339.45,171.5 340.18,171.5 340.9,171.49" fill="none" stroke="#52bb32" stroke-width="0.5"/>
<path d="M283.65 204.69L284.69 206.49L282.6 206.49Z" fill="#52bb32"/>
<path d="M290.8 204.02L291.85 205.82L289.76 205.82Z" fill="#52bb32"/>
<path d="M297.96 204.02L299 205.82L296.91 205.82Z" fill="#52bb32"/>
<path d="M305.12 203.52L306.16 205.33L304.07 205.33Z" fill="#52bb32"/>
<path d="M312.27 198.61L313.32 200.41L311.23 200.41Z" fill="#52bb32"/>
<path d="M319.43 177.25L320.47 179.06L318.38 179.06Z" fill="#52bb32"/>
<path d="M326.59 171.81L327.63 173.61L325.54 173.61Z" fill="#52bb32"/>
<path d="M333.74 170.32L334.79 172.13L332.7 172.13Z" fill="#52bb32"/>
<path d="M340.9 169.83L341.94 171.63L339.85 171.63Z" fill="#52bb32"/>
<polyline points="283.65,204.22 284.37,204.22 285.09,204.22 285.82,204.21 286.54,204.21 287.27,204.2 287.99,204.2 288.72,204.19 289.44,204.19 290.17,204.18 290.89,204.18 291.62,204.17 292.34,204.16 293.07,204.15 293.79,204.14 294.52,204.13 295.24,204.12 295.97,204.1 296.69,204.09 297.42,204.07 298.14,204.05 298.87,204.03 299.59,204.01 300.31,203.98 301.04,203.95 301.76,203.92 302.49,203.89 303.21,203.85 303.94,203.81 304.66,203.76 305.39,203.71 306.11,203.66 306.84,203.6 307.56,203.53 308.29,203.45 309.01,203.37 309.74,203.28 310.46,203.18 311.19,203.07 311.91,202.95 312.64,202.82 313.36,202.67 314.08,202.51 314.81,202.34 315.53,202.15 316.26,201.94 316.98,201.71 317.71,201.46 318.43,201.18 319.16,200.88 319.88,200.56 320.61,200.2 321.33,199.82 322.06,199.4 322.78,198.95 323.51,198.47 324.23,197.95 324.96,197.39 325.68,196.78 326.41,196.14 327.13,195.46 327.85,194.73 328.58,193.96 329.3,193.15 330.03,192.3 330.75,191.4 331.48,190.47 332.2,189.51 332.93,188.51 333.65,187.48 334.38,186.43 335.1,185.36 335.83,184.27 336.55,183.17 337.28,182.07 338,180.97 338.73,179.87 339.45,178.79 340.18,177.72 340.9,176.68" fill="none" stroke="#0a0aff" stroke-width="0.5"/>
<path d="M283.65 203.4V204.11" stroke="#0a0aff" stroke-width="0.6"/>
<rect x="282.7" y="202.8" width="1.9" height="1.9" fill="#0a0aff"/>
<path d="M290.8 203.75V204.57" stroke="#0a0aff" stroke-width="0.6"/>
<rect x="289.85" y="203.21" width="1.9" height="1.9" fill="#0a0aff"/>
<path d="M297.96 204.57V205.42" stroke="#0a0aff" stroke-width="0.6"/>
<rect x="297.01" y="204.04" width="1.9" height="1.9" fill="#0a0aff"/>
<path d="M305.12 202.94V203.75" stroke="#0a0aff" stroke-width="0.6"/>
<rect x="304.17" y="202.4" width="1.9" height="1.9" fill="#0a0aff"/>
<path d="M312.27 202.45V203.4" stroke="#0a0aff" stroke-width="0.6"/>
<rect x="311.32" y="201.97" width="1.9" height="1.9" fill="#0a0aff"/>
<path d="M319.43 200.22V200.82" stroke="#0a0aff" stroke-width="0.6"/>
<rect x="318.48" y="199.57" width="1.9" height="1.9" fill="#0a0aff"/>
<rect x="325.64" y="195.38" width="1.9" height="1.9" fill="#0a0aff"/>
<rect x="332.79" y="186.36" width="1.9" height="1.9" fill="#0a0aff"/>
<rect x="339.95" y="175.68" width="1.9" height="1.9" fill="#0a0aff"/>
<path d="M343.15 170.6h3.2" stroke="#0a0aff" stroke-width="0.6"/>
<rect x="343.95" y="169.8" width="1.6" height="1.6" fill="#0a0aff"/>
<text x="347.75" y="172.55" font-size="3.2" text-anchor="start">DB-1419</text>
<path d="M343.15 175.25h3.2" stroke="#e32428" stroke-width="0.6"/>
<circle cx="344.75" cy="175.25" r="0.8" fill="#e32428"/>
<text x="347.75" y="177.2" font-size="3.2" text-anchor="start">DB-141902</text>
<path d="M343.15 179.6h3.2" stroke="#52bb32" stroke-width="0.6"/>
<path d="M344.75 178.72L345.63 180.24L343.87 180.24Z" fill="#52bb32"/>
<text x="347.75" y="181.55" font-size="3.2" text-anchor="start">P1003</text>
<text x="347.75" y="186.15" font-size="3.2">IC<tspan font-size="1.984" dy="0.8">50</tspan><tspan dy="-0.8"> (DB-1419) = 320.900 nmol/L</tspan></text>
<text x="347.75" y="190.5" font-size="3.2">IC<tspan font-size="1.984" dy="0.8">50</tspan><tspan dy="-0.8"> (DB-141902) = NA</tspan></text>
<text x="347.75" y="195.25" font-size="3.2">IC<tspan font-size="1.984" dy="0.8">50</tspan><tspan dy="-0.8"> (P1003) = 21.990 nmol/L</tspan></text>
<text x="450.6" y="163.5" font-size="3.2" text-anchor="start">Target validation</text>
<path d="M410.9 168.2V222.5H513" fill="none" stroke="#444" stroke-width="0.55"/>
<text x="410.9" y="228.3" font-size="3.1" text-anchor="middle">0</text>
<text x="425.48" y="228.3" font-size="3.1" text-anchor="middle">2,000</text>
<text x="440.06" y="228.3" font-size="3.1" text-anchor="middle">4,000</text>
<text x="454.64" y="228.3" font-size="3.1" text-anchor="middle">6,000</text>
<text x="469.22" y="228.3" font-size="3.1" text-anchor="middle">8,000</text>
<text x="483.8" y="228.3" font-size="3.1" text-anchor="middle">10,000</text>
<text x="498.38" y="228.3" font-size="3.1" text-anchor="middle">12,000</text>
<text x="512.96" y="228.3" font-size="3.1" text-anchor="middle">14,000</text>
<rect x="410.9" y="171.9" width="91.6" height="1.4" fill="#0000ff"/>
<rect x="410.9" y="170.6" width="1.1" height="1.1" fill="#e32428"/>
<rect x="410.9" y="169.3" width="0.8" height="1.0" fill="#52bb32"/>
<text x="409" y="171.7" font-size="3.2" text-anchor="end">NCI-H1568</text>
<rect x="410.9" y="176.75" width="28.7" height="1.4" fill="#0000ff"/>
<rect x="410.9" y="175.45" width="1.1" height="1.1" fill="#e32428"/>
<rect x="410.9" y="174.15" width="0.8" height="1.0" fill="#52bb32"/>
<text x="409" y="176.55" font-size="3.2" text-anchor="end">NCI-H358</text>
<rect x="410.9" y="181.6" width="20.8" height="1.4" fill="#0000ff"/>
<rect x="410.9" y="180.3" width="1.1" height="1.1" fill="#e32428"/>
<rect x="410.9" y="179" width="0.8" height="1.0" fill="#52bb32"/>
<text x="409" y="181.4" font-size="3.2" text-anchor="end">NCI-H1975</text>
<rect x="410.9" y="186.45" width="16.9" height="1.4" fill="#0000ff"/>
<rect x="410.9" y="185.15" width="1.1" height="1.1" fill="#e32428"/>
<rect x="410.9" y="183.85" width="0.8" height="1.0" fill="#52bb32"/>
<text x="409" y="186.25" font-size="3.2" text-anchor="end">KYSE150</text>
<rect x="410.9" y="191.3" width="14.5" height="1.4" fill="#0000ff"/>
<rect x="410.9" y="190" width="1.1" height="1.1" fill="#e32428"/>
<rect x="410.9" y="188.7" width="0.8" height="1.0" fill="#52bb32"/>
<text x="409" y="191.1" font-size="3.2" text-anchor="end">A375</text>
<rect x="410.9" y="196.15" width="16" height="1.4" fill="#0000ff"/>
<rect x="410.9" y="194.85" width="1.1" height="1.1" fill="#e32428"/>
<rect x="410.9" y="193.55" width="0.8" height="1.0" fill="#52bb32"/>
<text x="409" y="195.95" font-size="3.2" text-anchor="end">NCI-H441</text>
<rect x="410.9" y="201" width="13" height="1.4" fill="#0000ff"/>
<rect x="410.9" y="199.7" width="1.1" height="1.1" fill="#e32428"/>
<rect x="410.9" y="198.4" width="0.8" height="1.0" fill="#52bb32"/>
<text x="409" y="200.8" font-size="3.2" text-anchor="end">DMS53</text>
<rect x="410.9" y="205.85" width="11.7" height="1.4" fill="#0000ff"/>
<rect x="410.9" y="204.55" width="1.1" height="1.1" fill="#e32428"/>
<rect x="410.9" y="203.25" width="0.8" height="1.0" fill="#52bb32"/>
<text x="409" y="205.65" font-size="3.2" text-anchor="end">HuH7</text>
<rect x="410.9" y="210.7" width="8.9" height="1.4" fill="#0000ff"/>
<rect x="410.9" y="209.4" width="1.1" height="1.1" fill="#e32428"/>
<rect x="410.9" y="208.1" width="0.8" height="1.0" fill="#52bb32"/>
<text x="409" y="210.5" font-size="3.2" text-anchor="end">MDA-MB-231</text>
<rect x="410.9" y="215.55" width="8.1" height="1.4" fill="#0000ff"/>
<rect x="410.9" y="214.25" width="1.1" height="1.1" fill="#e32428"/>
<rect x="410.9" y="212.95" width="0.8" height="1.0" fill="#52bb32"/>
<text x="409" y="215.35" font-size="3.2" text-anchor="end">NCI-H82</text>
<rect x="410.9" y="220.4" width="6.9" height="1.4" fill="#0000ff"/>
<rect x="410.9" y="219.1" width="1.1" height="1.1" fill="#e32428"/>
<rect x="410.9" y="217.8" width="0.8" height="1.0" fill="#52bb32"/>
<text x="409" y="220.2" font-size="3.2" text-anchor="end">PC-3</text>
<path d="M410.9 222.5v1.0M425.48 222.5v1.0M440.06 222.5v1.0M454.64 222.5v1.0M469.22 222.5v1.0M483.8 222.5v1.0M498.38 222.5v1.0M512.96 222.5v1.0M409.9 171.2h1M409.9 176.05h1M409.9 180.9h1M409.9 185.75h1M409.9 190.6h1M409.9 195.45h1M409.9 200.3h1M409.9 205.15h1M409.9 210h1M409.9 214.85h1M409.9 219.7h1" stroke="#444" stroke-width="0.5"/>
<text x="462" y="233.5" font-size="3.2" text-anchor="middle">Mean fluorescence intensity</text>
<rect x="464.4" y="189.05" width="3.0" height="1.4" fill="#0a0aff"/>
<text x="470.7" y="190.9" font-size="3.2" text-anchor="start">DB-1419 100 nmol/L</text>
<rect x="464.4" y="193" width="3.0" height="1.4" fill="#e32428"/>
<text x="470.7" y="194.85" font-size="3.2" text-anchor="start">Isotype control ADC 100 nmol/L</text>
<rect x="464.4" y="196.6" width="3.0" height="1.4" fill="#52bb32"/>
<text x="470.7" y="198.45" font-size="3.2" text-anchor="start">Vehicle</text>
<path d="M22.5 239V305.8H122.9" fill="none" stroke="#444" stroke-width="0.6"/>
<text x="20.1" y="307.1" font-size="3.0" text-anchor="end">0</text>
<text x="20.1" y="284.83" font-size="3.0" text-anchor="end">5,000</text>
<text x="20.1" y="262.57" font-size="3.0" text-anchor="end">10,000</text>
<text x="20.1" y="240.3" font-size="3.0" text-anchor="end">15,000</text>
<text x="22.5" y="310.8" font-size="3.0" text-anchor="middle">0</text>
<text x="47.6" y="310.8" font-size="3.0" text-anchor="middle">100</text>
<text x="72.7" y="310.8" font-size="3.0" text-anchor="middle">200</text>
<text x="97.8" y="310.8" font-size="3.0" text-anchor="middle">300</text>
<text x="122.9" y="310.8" font-size="3.0" text-anchor="middle">400</text>
<path d="M21.3 305.8H22.5M21.3 283.53H22.5M21.3 261.27H22.5M21.3 239H22.5M22.5 305.8v1.1M47.6 305.8v1.1M72.7 305.8v1.1M97.8 305.8v1.1M122.9 305.8v1.1" stroke="#444" stroke-width="0.5"/>
<text x="25.2" y="240.6" font-size="3.0"><tspan font-style="italic">R</tspan> = &#8722;0.2</text>
<path d="M22.5 290.3L102.7 299.1" stroke="#111" stroke-width="0.6"/>
<rect x="21.7" y="247.8" width="1.6" height="1.6" fill="#111"/>
<rect x="21.7" y="287.2" width="1.6" height="1.6" fill="#111"/>
<rect x="21.8" y="297.8" width="1.6" height="1.6" fill="#111"/>
<rect x="22.7" y="300.7" width="1.6" height="1.6" fill="#111"/>
<rect x="24.6" y="296.8" width="1.6" height="1.6" fill="#111"/>
<rect x="27.4" y="296.2" width="1.6" height="1.6" fill="#111"/>
<rect x="28.3" y="294.9" width="1.6" height="1.6" fill="#111"/>
<rect x="52.3" y="299.8" width="1.6" height="1.6" fill="#111"/>
<rect x="60.2" y="300.2" width="1.6" height="1.6" fill="#111"/>
<rect x="69.9" y="294" width="1.6" height="1.6" fill="#111"/>
<rect x="101.9" y="292.2" width="1.6" height="1.6" fill="#111"/>
<text x="53.4" y="317.4" font-size="3.2">Cytotoxicity potency (IC<tspan font-size="2" dy="0.7">50</tspan><tspan dy="-0.7">)</tspan></text>
<text transform="translate(8.3 272.4) rotate(-90)" font-size="3.2" text-anchor="middle">DB-1419 binding (MFI)</text>
<path d="M152.6 237.2V305.6H253" fill="none" stroke="#444" stroke-width="0.6"/>
<text x="150.2" y="306.9" font-size="3.0" text-anchor="end">0</text>
<text x="150.2" y="284.1" font-size="3.0" text-anchor="end">5,000</text>
<text x="150.2" y="261.3" font-size="3.0" text-anchor="end">10,000</text>
<text x="150.2" y="238.5" font-size="3.0" text-anchor="end">15,000</text>
<text x="152.6" y="310.6" font-size="3.0" text-anchor="middle">0</text>
<text x="177.7" y="310.6" font-size="3.0" text-anchor="middle">100</text>
<text x="202.8" y="310.6" font-size="3.0" text-anchor="middle">200</text>
<text x="227.9" y="310.6" font-size="3.0" text-anchor="middle">300</text>
<text x="253" y="310.6" font-size="3.0" text-anchor="middle">400</text>
<path d="M151.4 305.6H152.6M151.4 282.8H152.6M151.4 260H152.6M151.4 237.2H152.6M152.6 305.6v1.1M177.7 305.6v1.1M202.8 305.6v1.1M227.9 305.6v1.1M253 305.6v1.1" stroke="#444" stroke-width="0.5"/>
<text x="155.3" y="238.8" font-size="3.0"><tspan font-style="italic">R</tspan> = &#8722;0.18</text>
<path d="M152.6 291L233.9 297.9" stroke="#0a0aff" stroke-width="0.6"/>
<rect x="151.8" y="256.4" width="1.6" height="1.6" fill="#0a0aff"/>
<rect x="151.8" y="284.6" width="1.6" height="1.6" fill="#0a0aff"/>
<rect x="152.1" y="297.8" width="1.6" height="1.6" fill="#0a0aff"/>
<rect x="152.8" y="300.4" width="1.6" height="1.6" fill="#0a0aff"/>
<rect x="153.6" y="300.2" width="1.6" height="1.6" fill="#0a0aff"/>
<rect x="154.8" y="296.8" width="1.6" height="1.6" fill="#0a0aff"/>
<rect x="157.4" y="296.8" width="1.6" height="1.6" fill="#0a0aff"/>
<rect x="158.6" y="295.1" width="1.6" height="1.6" fill="#0a0aff"/>
<rect x="182.3" y="300.9" width="1.6" height="1.6" fill="#0a0aff"/>
<rect x="191" y="300.4" width="1.6" height="1.6" fill="#0a0aff"/>
<rect x="201.1" y="294" width="1.6" height="1.6" fill="#0a0aff"/>
<rect x="233.4" y="289.8" width="1.6" height="1.6" fill="#0a0aff"/>
<text x="183.5" y="317.2" font-size="3.2">Cytotoxicity potency (IC<tspan font-size="2" dy="0.7">50</tspan><tspan dy="-0.7">)</tspan></text>
<text transform="translate(138.55 271.4) rotate(-90)" font-size="3.2" text-anchor="middle">B7-H3 expression (MFI)</text>
<path d="M280.9 238.8V305.5H381.3" fill="none" stroke="#444" stroke-width="0.6"/>
<text x="278.5" y="306.8" font-size="3.0" text-anchor="end">0</text>
<text x="278.5" y="284.57" font-size="3.0" text-anchor="end">1,000</text>
<text x="278.5" y="262.33" font-size="3.0" text-anchor="end">2,000</text>
<text x="278.5" y="240.1" font-size="3.0" text-anchor="end">3,000</text>
<text x="280.9" y="310.5" font-size="3.0" text-anchor="middle">0</text>
<text x="306" y="310.5" font-size="3.0" text-anchor="middle">100</text>
<text x="331.1" y="310.5" font-size="3.0" text-anchor="middle">200</text>
<text x="356.2" y="310.5" font-size="3.0" text-anchor="middle">300</text>
<text x="381.3" y="310.5" font-size="3.0" text-anchor="middle">400</text>
<path d="M279.7 305.5H280.9M279.7 283.27H280.9M279.7 261.03H280.9M279.7 238.8H280.9M280.9 305.5v1.1M306 305.5v1.1M331.1 305.5v1.1M356.2 305.5v1.1M381.3 305.5v1.1" stroke="#444" stroke-width="0.5"/>
<text x="283.6" y="240.4" font-size="3.0"><tspan font-style="italic">R</tspan> = 0.64</text>
<path d="M281.2 295.6L361.5 249.7" stroke="#e32428" stroke-width="0.6"/>
<rect x="280.4" y="251.6" width="1.6" height="1.6" fill="#e32428"/>
<rect x="310.7" y="264.3" width="1.6" height="1.6" fill="#e32428"/>
<rect x="280.4" y="302.4" width="1.6" height="1.6" fill="#e32428"/>
<rect x="280.8" y="303.7" width="1.6" height="1.6" fill="#e32428"/>
<rect x="281.7" y="298.6" width="1.6" height="1.6" fill="#e32428"/>
<rect x="283.2" y="299.4" width="1.6" height="1.6" fill="#e32428"/>
<rect x="285.9" y="301.7" width="1.6" height="1.6" fill="#e32428"/>
<rect x="287" y="297.9" width="1.6" height="1.6" fill="#e32428"/>
<rect x="318.3" y="302" width="1.6" height="1.6" fill="#e32428"/>
<rect x="328.8" y="258.8" width="1.6" height="1.6" fill="#e32428"/>
<rect x="360.7" y="243.1" width="1.6" height="1.6" fill="#e32428"/>
<text x="311.8" y="317.1" font-size="3.2">Cytotoxicity potency (IC<tspan font-size="2" dy="0.7">50</tspan><tspan dy="-0.7">)</tspan></text>
<text transform="translate(268 272.15) rotate(-90)" font-size="3.2" text-anchor="middle">PD-L1 expression (MFI)</text>
<text x="440.4" y="244.6" font-size="3.2" text-anchor="start">Binding ability of single arm of DB-1419</text>
<path d="M409.3 248.2V305.7H517" fill="none" stroke="#444" stroke-width="0.55"/>
<text x="407.9" y="306.8" font-size="3.1" text-anchor="end">0</text>
<text x="407.9" y="297.25" font-size="3.1" text-anchor="end">2,000</text>
<text x="407.9" y="287.7" font-size="3.1" text-anchor="end">4,000</text>
<text x="407.9" y="278.15" font-size="3.1" text-anchor="end">6,000</text>
<text x="407.9" y="268.6" font-size="3.1" text-anchor="end">8,000</text>
<text x="407.9" y="259.05" font-size="3.1" text-anchor="end">10,000</text>
<text x="407.9" y="249.5" font-size="3.1" text-anchor="end">12,000</text>
<path d="M408.1 305.7H409.3M408.1 296.15H409.3M408.1 286.6H409.3M408.1 277.05H409.3M408.1 267.5H409.3M408.1 257.95H409.3M408.1 248.4H409.3" stroke="#444" stroke-width="0.5"/>
<text transform="translate(397.4 277.7) rotate(-90)" font-size="3.2" text-anchor="middle">MFI</text>
<rect x="413.2" y="250.05" width="3.5" height="1.5" fill="#52bb32"/>
<text x="417.8" y="251.95" font-size="3.2" text-anchor="start">hIgG1 ADC</text>
<rect x="413.2" y="254.85" width="3.5" height="1.5" fill="#0a0aff"/>
<text x="417.8" y="256.75" font-size="3.2" text-anchor="start">Anti-PD-L1 ADC</text>
<rect x="413.2" y="259.15" width="3.5" height="1.5" fill="#e32428"/>
<text x="417.8" y="261.05" font-size="3.2" text-anchor="start">Anti-B7-H3 ADC</text>
<rect x="411.9" y="305.2" width="2.4" height="0.5" fill="#52bb32"/>
<rect x="414.2" y="304.75" width="2.4" height="0.96" fill="#0a0aff"/>
<rect x="416.5" y="301.4" width="2.4" height="4.3" fill="#e32428"/>
<path d="M412.9 299.9q2.7 -0.9 5.4 0" fill="none" stroke="#888" stroke-width="0.35"/>
<text x="415.6" y="299" font-size="2.2" text-anchor="middle" style="fill:#888;stroke:none">****</text>
<text x="413.7" y="303.75" font-size="1.9" text-anchor="middle" style="fill:#999;stroke:none">ns</text>
<text transform="translate(415.7 307.6) rotate(-90)" font-size="3.5" text-anchor="end">PC-3</text>
<rect x="421.65" y="305.2" width="2.4" height="0.5" fill="#52bb32"/>
<rect x="423.95" y="305.2" width="2.4" height="0.5" fill="#0a0aff"/>
<rect x="426.25" y="301.4" width="2.4" height="4.3" fill="#e32428"/>
<path d="M422.65 299.9q2.7 -0.9 5.4 0" fill="none" stroke="#888" stroke-width="0.35"/>
<text x="425.35" y="299" font-size="2.2" text-anchor="middle" style="fill:#888;stroke:none">****</text>
<text transform="translate(425.45 307.6) rotate(-90)" font-size="3.5" text-anchor="end">NCI-H82</text>
<rect x="431.4" y="305.2" width="2.4" height="0.5" fill="#52bb32"/>
<rect x="433.7" y="297.1" width="2.4" height="8.6" fill="#0a0aff"/>
<rect x="436" y="301.88" width="2.4" height="3.82" fill="#e32428"/>
<path d="M432.4 295.6q2.7 -0.9 5.4 0" fill="none" stroke="#888" stroke-width="0.35"/>
<text x="435.1" y="294.7" font-size="2.2" text-anchor="middle" style="fill:#888;stroke:none">****</text>
<text x="433.2" y="296.1" font-size="1.9" text-anchor="middle" style="fill:#999;stroke:none">ns</text>
<text transform="translate(435.2 307.6) rotate(-90)" font-size="3.5" text-anchor="end">MDA-MB-231</text>
<rect x="441.15" y="305.2" width="2.4" height="0.5" fill="#52bb32"/>
<rect x="443.45" y="305.2" width="2.4" height="0.5" fill="#0a0aff"/>
<rect x="445.75" y="298.54" width="2.4" height="7.16" fill="#e32428"/>
<path d="M442.15 297.04q2.7 -0.9 5.4 0" fill="none" stroke="#888" stroke-width="0.35"/>
<text x="444.85" y="296.14" font-size="2.2" text-anchor="middle" style="fill:#888;stroke:none">****</text>
<text transform="translate(444.95 307.6) rotate(-90)" font-size="3.5" text-anchor="end">HuH7</text>
<rect x="450.9" y="305.2" width="2.4" height="0.5" fill="#52bb32"/>
<rect x="453.2" y="304.98" width="2.4" height="0.72" fill="#0a0aff"/>
<rect x="455.5" y="297.58" width="2.4" height="8.12" fill="#e32428"/>
<path d="M451.9 296.08q2.7 -0.9 5.4 0" fill="none" stroke="#888" stroke-width="0.35"/>
<text x="454.6" y="295.18" font-size="2.2" text-anchor="middle" style="fill:#888;stroke:none">****</text>
<text x="452.7" y="303.98" font-size="1.9" text-anchor="middle" style="fill:#999;stroke:none">ns</text>
<text transform="translate(454.7 307.6) rotate(-90)" font-size="3.5" text-anchor="end">DMS53</text>
<rect x="460.65" y="305.2" width="2.4" height="0.5" fill="#52bb32"/>
<rect x="462.95" y="304.41" width="2.4" height="1.29" fill="#0a0aff"/>
<rect x="465.25" y="295.67" width="2.4" height="10.03" fill="#e32428"/>
<path d="M461.65 294.17q2.7 -0.9 5.4 0" fill="none" stroke="#888" stroke-width="0.35"/>
<text x="464.35" y="293.27" font-size="2.2" text-anchor="middle" style="fill:#888;stroke:none">****</text>
<text x="462.45" y="303.41" font-size="1.9" text-anchor="middle" style="fill:#999;stroke:none">ns</text>
<text transform="translate(464.45 307.6) rotate(-90)" font-size="3.5" text-anchor="end">NCI-H441</text>
<rect x="470.4" y="305.2" width="2.4" height="0.5" fill="#52bb32"/>
<rect x="472.7" y="305.2" width="2.4" height="0.5" fill="#0a0aff"/>
<rect x="475" y="297.58" width="2.4" height="8.12" fill="#e32428"/>
<path d="M471.4 296.08q2.7 -0.9 5.4 0" fill="none" stroke="#888" stroke-width="0.35"/>
<text x="474.1" y="295.18" font-size="2.2" text-anchor="middle" style="fill:#888;stroke:none">****</text>
<text transform="translate(474.2 307.6) rotate(-90)" font-size="3.5" text-anchor="end">A375</text>
<rect x="480.15" y="305.2" width="2.4" height="0.5" fill="#52bb32"/>
<rect x="482.45" y="296.15" width="2.4" height="9.55" fill="#0a0aff"/>
<rect x="484.75" y="294.96" width="2.4" height="10.74" fill="#e32428"/>
<path d="M481.15 293.46q2.7 -0.9 5.4 0" fill="none" stroke="#888" stroke-width="0.35"/>
<text x="483.85" y="292.56" font-size="2.2" text-anchor="middle" style="fill:#888;stroke:none">****</text>
<text x="481.95" y="295.15" font-size="1.9" text-anchor="middle" style="fill:#999;stroke:none">ns</text>
<text transform="translate(483.95 307.6) rotate(-90)" font-size="3.5" text-anchor="end">KYSE150</text>
<rect x="489.9" y="305.2" width="2.4" height="0.5" fill="#52bb32"/>
<rect x="492.2" y="292.81" width="2.4" height="12.89" fill="#0a0aff"/>
<rect x="494.5" y="290.18" width="2.4" height="15.52" fill="#e32428"/>
<path d="M490.9 288.68q2.7 -0.9 5.4 0" fill="none" stroke="#888" stroke-width="0.35"/>
<text x="493.6" y="287.78" font-size="2.2" text-anchor="middle" style="fill:#888;stroke:none">****</text>
<text x="491.7" y="291.81" font-size="1.9" text-anchor="middle" style="fill:#999;stroke:none">ns</text>
<text transform="translate(493.7 307.6) rotate(-90)" font-size="3.5" text-anchor="end">NCI-H1975</text>
<rect x="499.65" y="305.2" width="2.4" height="0.5" fill="#52bb32"/>
<rect x="501.95" y="294.48" width="2.4" height="11.22" fill="#0a0aff"/>
<rect x="504.25" y="284.45" width="2.4" height="21.25" fill="#e32428"/>
<path d="M500.65 282.95q2.7 -0.9 5.4 0" fill="none" stroke="#888" stroke-width="0.35"/>
<text x="503.35" y="282.05" font-size="2.2" text-anchor="middle" style="fill:#888;stroke:none">****</text>
<text x="501.45" y="293.48" font-size="1.9" text-anchor="middle" style="fill:#999;stroke:none">ns</text>
<text transform="translate(503.45 307.6) rotate(-90)" font-size="3.5" text-anchor="end">NCI-H358</text>
<rect x="509.4" y="305.2" width="2.4" height="0.5" fill="#52bb32"/>
<rect x="511.7" y="305.2" width="2.4" height="0.5" fill="#0a0aff"/>
<rect x="514" y="254.61" width="2.4" height="51.09" fill="#e32428"/>
<path d="M510.4 253.11q2.7 -0.9 5.4 0" fill="none" stroke="#888" stroke-width="0.35"/>
<text x="513.1" y="252.21" font-size="2.2" text-anchor="middle" style="fill:#888;stroke:none">****</text>
<text transform="translate(513.2 307.6) rotate(-90)" font-size="3.5" text-anchor="end">NCI-H1568</text>
<text x="0.6" y="8.3" font-size="10.3" font-weight="bold" style="stroke-width:0.25px">A</text>
<text x="385.9" y="161.6" font-size="10.3" font-weight="bold" style="stroke-width:0.25px">B</text>
<text x="0.5" y="233.7" font-size="10.3" font-weight="bold" style="stroke-width:0.25px">C</text>
<text x="385.9" y="233.8" font-size="10.3" font-weight="bold" style="stroke-width:0.25px">D</text>
<!--PANELS-->
</svg></body></html>
